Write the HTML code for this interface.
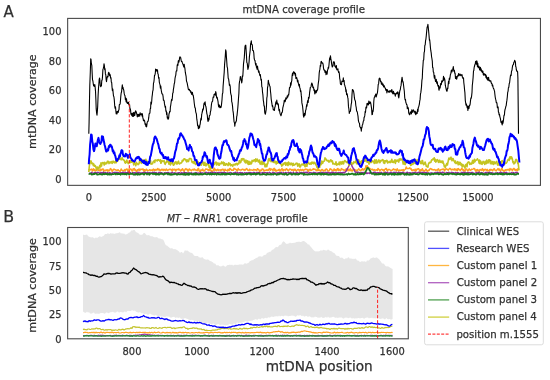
<!DOCTYPE html><html><head><meta charset="utf-8"><style>html,body{margin:0;padding:0;background:#fff;width:550px;height:380px;overflow:hidden}svg{display:block}</style></head><body><svg width="550" height="380" viewBox="0 0 550 380"><rect width="550" height="380" fill="#fff"/><text x="3.44" y="16.70" font-size="16" textLength="10.28" lengthAdjust="spacingAndGlyphs" fill="#303030" font-family="DejaVu Sans, Liberation Sans, sans-serif" stroke="#303030" stroke-width="0.25">A</text><text x="242.58" y="12.50" font-size="11.2" textLength="122.35" lengthAdjust="spacingAndGlyphs" fill="#303030" font-family="DejaVu Sans, Liberation Sans, sans-serif" stroke="#303030" stroke-width="0.25">mtDNA coverage profile</text><text transform="translate(35.6,101.6) scale(0.87,1) rotate(-90)" text-anchor="middle" font-size="11.1" fill="#303030" font-family="DejaVu Sans, Liberation Sans, sans-serif" stroke="#303030" stroke-width="0.25">mtDNA coverage</text><text x="55.16" y="182.70" font-size="11.0" textLength="6.30" lengthAdjust="spacingAndGlyphs" fill="#303030" font-family="DejaVu Sans, Liberation Sans, sans-serif" stroke="#303030" stroke-width="0.25">0</text><text x="48.86" y="153.24" font-size="11.0" textLength="12.60" lengthAdjust="spacingAndGlyphs" fill="#303030" font-family="DejaVu Sans, Liberation Sans, sans-serif" stroke="#303030" stroke-width="0.25">20</text><text x="48.86" y="123.78" font-size="11.0" textLength="12.60" lengthAdjust="spacingAndGlyphs" fill="#303030" font-family="DejaVu Sans, Liberation Sans, sans-serif" stroke="#303030" stroke-width="0.25">40</text><text x="48.86" y="94.32" font-size="11.0" textLength="12.60" lengthAdjust="spacingAndGlyphs" fill="#303030" font-family="DejaVu Sans, Liberation Sans, sans-serif" stroke="#303030" stroke-width="0.25">60</text><text x="48.86" y="64.86" font-size="11.0" textLength="12.60" lengthAdjust="spacingAndGlyphs" fill="#303030" font-family="DejaVu Sans, Liberation Sans, sans-serif" stroke="#303030" stroke-width="0.25">80</text><text x="42.56" y="35.40" font-size="11.0" textLength="18.90" lengthAdjust="spacingAndGlyphs" fill="#303030" font-family="DejaVu Sans, Liberation Sans, sans-serif" stroke="#303030" stroke-width="0.25">100</text><text x="85.86" y="201.10" font-size="11.0" textLength="6.30" lengthAdjust="spacingAndGlyphs" fill="#303030" font-family="DejaVu Sans, Liberation Sans, sans-serif" stroke="#303030" stroke-width="0.25">0</text><text x="141.22" y="201.10" font-size="11.0" textLength="25.19" lengthAdjust="spacingAndGlyphs" fill="#303030" font-family="DejaVu Sans, Liberation Sans, sans-serif" stroke="#303030" stroke-width="0.25">2500</text><text x="206.05" y="201.10" font-size="11.0" textLength="25.19" lengthAdjust="spacingAndGlyphs" fill="#303030" font-family="DejaVu Sans, Liberation Sans, sans-serif" stroke="#303030" stroke-width="0.25">5000</text><text x="270.87" y="201.10" font-size="11.0" textLength="25.19" lengthAdjust="spacingAndGlyphs" fill="#303030" font-family="DejaVu Sans, Liberation Sans, sans-serif" stroke="#303030" stroke-width="0.25">7500</text><text x="332.44" y="201.10" font-size="11.0" textLength="31.49" lengthAdjust="spacingAndGlyphs" fill="#303030" font-family="DejaVu Sans, Liberation Sans, sans-serif" stroke="#303030" stroke-width="0.25">10000</text><text x="397.29" y="201.10" font-size="11.0" textLength="31.49" lengthAdjust="spacingAndGlyphs" fill="#303030" font-family="DejaVu Sans, Liberation Sans, sans-serif" stroke="#303030" stroke-width="0.25">12500</text><text x="462.14" y="201.10" font-size="11.0" textLength="31.49" lengthAdjust="spacingAndGlyphs" fill="#303030" font-family="DejaVu Sans, Liberation Sans, sans-serif" stroke="#303030" stroke-width="0.25">15000</text><g fill="none" stroke-linejoin="round" stroke-linecap="butt"><path d="M88.8,170.2L89.4,169.4L90.0,169.6L90.6,169.9L91.2,169.1L91.8,169.3L92.4,171.1L93.0,169.4L93.6,168.9L94.2,170.5L94.8,169.6L95.4,170.9L96.0,170.3L96.6,170.5L97.2,169.0L97.8,169.7L98.4,170.3L99.0,169.9L99.6,170.8L100.2,170.8L100.8,169.1L101.4,170.2L102.0,169.6L102.6,169.1L103.2,169.0L103.8,171.2L104.4,170.3L105.0,170.4L105.6,170.4L106.2,169.9L106.8,170.6L107.4,169.9L108.0,171.1L108.6,170.1L109.2,170.7L109.8,170.3L110.4,168.6L111.0,169.1L111.6,169.7L112.2,171.4L112.8,170.0L113.4,169.9L114.0,169.0L114.6,169.6L115.2,169.8L115.8,170.0L116.4,170.5L117.0,170.1L117.6,170.4L118.2,169.8L118.8,170.7L119.4,170.9L120.0,171.5L120.6,170.6L121.2,169.0L121.8,170.2L122.4,170.5L123.0,170.7L123.6,170.4L124.2,170.9L124.8,169.5L125.4,170.4L126.0,169.6L126.6,169.1L127.2,169.1L127.8,171.1L128.4,171.4L129.0,169.0L129.6,170.2L130.2,169.2L130.8,168.9L131.4,169.7L132.0,171.0L132.6,171.0L133.2,168.8L133.8,169.7L134.4,168.5L135.0,170.3L135.6,169.9L136.2,171.2L136.8,171.2L137.4,169.7L138.0,170.5L138.6,169.2L139.2,169.1L139.8,170.6L140.4,169.3L141.0,169.3L141.6,169.3L142.2,169.7L142.8,169.0L143.4,169.2L144.0,171.2L144.6,169.8L145.2,170.8L145.8,170.3L146.4,169.2L147.0,169.8L147.6,170.3L148.2,170.7L148.8,170.3L149.4,169.8L150.0,169.7L150.6,170.5L151.2,170.0L151.8,170.2L152.4,170.8L153.0,169.4L153.6,169.1L154.2,170.5L154.8,169.8L155.4,170.3L156.0,169.3L156.6,170.0L157.2,170.0L157.8,168.4L158.4,169.7L159.0,170.1L159.6,169.3L160.2,170.7L160.8,170.0L161.4,170.0L162.0,169.1L162.6,170.0L163.2,170.5L163.8,169.3L164.4,169.4L165.0,170.3L165.6,170.5L166.2,168.9L166.8,169.6L167.4,170.4L168.0,170.0L168.6,169.9L169.2,169.4L169.8,169.2L170.4,169.7L171.0,169.4L171.6,170.0L172.2,171.0L172.8,169.1L173.4,169.8L174.0,169.9L174.6,169.2L175.2,169.4L175.8,171.0L176.4,169.8L177.0,169.3L177.6,169.4L178.2,169.8L178.8,168.8L179.4,169.8L180.0,170.0L180.6,171.0L181.2,169.7L181.8,170.2L182.4,168.7L183.0,169.5L183.6,170.6L184.2,171.2L184.8,170.0L185.4,169.0L186.0,168.6L186.6,169.6L187.2,169.3L187.8,171.0L188.4,171.1L189.0,169.2L189.6,169.0L190.2,170.1L190.8,170.0L191.4,170.8L192.0,170.1L192.6,169.4L193.2,169.3L193.8,170.1L194.4,169.0L195.0,169.5L195.6,170.1L196.2,170.2L196.8,169.9L197.4,170.6L198.0,168.6L198.6,168.5L199.2,171.0L199.8,171.2L200.4,171.4L201.0,169.8L201.6,170.5L202.2,170.4L202.8,169.1L203.4,170.7L204.0,171.1L204.6,170.6L205.2,169.8L205.8,169.0L206.4,169.1L207.0,169.3L207.6,169.3L208.2,170.6L208.8,169.6L209.4,170.3L210.0,168.4L210.6,170.5L211.2,170.4L211.8,171.3L212.4,171.2L213.0,170.8L213.6,169.7L214.2,168.3L214.8,170.2L215.4,169.4L216.0,170.0L216.6,170.6L217.2,169.8L217.8,169.2L218.4,170.4L219.0,170.1L219.6,169.9L220.2,169.8L220.8,170.9L221.4,169.6L222.0,170.0L222.6,169.2L223.2,169.3L223.8,170.4L224.4,171.0L225.0,169.2L225.6,170.2L226.2,170.3L226.8,170.4L227.4,170.9L228.0,169.3L228.6,170.5L229.2,170.6L229.8,168.4L230.4,169.0L231.0,169.3L231.6,170.3L232.2,170.2L232.8,170.0L233.4,170.3L234.0,168.3L234.6,168.6L235.2,169.2L235.8,169.5L236.4,169.4L237.0,171.0L237.6,170.3L238.2,168.5L238.8,169.7L239.4,169.8L240.0,170.0L240.6,169.9L241.2,170.1L241.8,169.6L242.4,169.2L243.0,169.2L243.6,169.9L244.2,169.6L244.8,170.2L245.4,170.1L246.0,169.1L246.6,168.6L247.2,169.3L247.8,170.1L248.4,170.6L249.0,170.6L249.6,169.3L250.2,170.1L250.8,170.0L251.4,170.0L252.0,170.1L252.6,170.2L253.2,170.2L253.8,169.3L254.4,169.9L255.0,169.8L255.6,169.7L256.2,170.5L256.8,170.5L257.4,168.7L258.0,169.2L258.6,169.4L259.2,170.8L259.8,171.3L260.4,170.1L261.0,170.8L261.6,170.2L262.2,168.9L262.8,169.6L263.4,169.3L264.0,171.1L264.6,170.6L265.2,170.6L265.8,170.1L266.4,169.8L267.0,170.4L267.6,170.4L268.2,169.5L268.8,170.3L269.4,168.6L270.0,168.6L270.6,170.2L271.2,169.0L271.8,169.5L272.4,169.4L273.0,170.8L273.6,168.8L274.2,168.4L274.8,170.5L275.4,169.3L276.0,171.2L276.6,170.6L277.2,170.5L277.8,170.4L278.4,169.6L279.0,170.5L279.6,169.3L280.2,171.0L280.8,170.1L281.4,170.1L282.0,168.5L282.6,170.1L283.2,171.0L283.8,169.4L284.4,169.9L285.0,170.1L285.6,170.2L286.2,168.8L286.8,169.0L287.4,169.6L288.0,170.7L288.6,170.8L289.2,169.6L289.8,169.1L290.4,169.2L291.0,169.5L291.6,170.1L292.2,169.5L292.8,170.1L293.4,170.7L294.0,169.2L294.6,170.1L295.2,169.3L295.8,170.8L296.4,170.9L297.0,170.3L297.6,169.6L298.2,169.4L298.8,170.0L299.4,171.0L300.0,169.6L300.6,169.3L301.2,170.3L301.8,170.4L302.4,169.5L303.0,169.7L303.6,170.8L304.2,169.7L304.8,169.6L305.4,169.0L306.0,169.6L306.6,169.2L307.2,169.4L307.8,170.8L308.4,171.3L309.0,169.5L309.6,170.0L310.2,169.2L310.8,170.5L311.4,170.3L312.0,169.9L312.6,169.6L313.2,168.7L313.8,169.4L314.4,169.2L315.0,169.1L315.6,170.0L316.2,170.0L316.8,170.7L317.4,168.9L318.0,170.5L318.6,169.5L319.2,170.2L319.8,170.3L320.4,171.1L321.0,170.7L321.6,169.6L322.2,169.4L322.8,170.2L323.4,170.9L324.0,170.2L324.6,170.7L325.2,170.8L325.8,169.4L326.4,168.9L327.0,169.3L327.6,170.8L328.2,170.8L328.8,171.1L329.4,170.4L330.0,168.8L330.6,168.9L331.2,169.5L331.8,169.7L332.4,170.8L333.0,170.7L333.6,170.4L334.2,168.9L334.8,170.5L335.4,169.7L336.0,170.2L336.6,170.7L337.2,168.9L337.8,168.5L338.4,170.2L339.0,169.4L339.6,170.0L340.2,170.6L340.8,170.5L341.4,168.6L342.0,169.0L342.6,169.4L343.2,170.0L343.8,169.7L344.4,170.5L345.0,170.9L345.6,169.3L346.2,169.5L346.8,168.9L347.4,169.7L348.0,170.8L348.6,169.4L349.2,170.6L349.8,170.3L350.4,168.6L351.0,170.8L351.6,170.0L352.2,171.0L352.8,170.7L353.4,169.2L354.0,169.8L354.6,169.9L355.2,170.7L355.8,169.8L356.4,170.9L357.0,171.0L357.6,169.9L358.2,169.5L358.8,168.9L359.4,170.1L360.0,170.1L360.6,170.7L361.2,170.2L361.8,169.6L362.4,168.7L363.0,170.0L363.6,170.1L364.2,168.9L364.8,169.6L365.4,167.9L366.0,165.8L366.6,167.2L367.2,165.7L367.8,166.7L368.4,168.0L369.0,168.1L369.6,168.3L370.2,168.9L370.8,169.2L371.4,169.5L372.0,169.6L372.6,169.2L373.2,170.3L373.8,170.0L374.4,169.6L375.0,170.4L375.6,170.0L376.2,169.9L376.8,169.8L377.4,170.5L378.0,168.4L378.6,169.6L379.2,169.5L379.8,171.0L380.4,170.0L381.0,169.6L381.6,169.3L382.2,169.5L382.8,170.3L383.4,169.8L384.0,171.2L384.6,169.4L385.2,169.3L385.8,168.6L386.4,168.6L387.0,170.5L387.6,170.8L388.2,169.7L388.8,169.4L389.4,169.5L390.0,169.9L390.6,170.3L391.2,170.6L391.8,170.6L392.4,169.6L393.0,169.7L393.6,168.9L394.2,169.5L394.8,169.9L395.4,169.5L396.0,169.8L396.6,170.9L397.2,168.8L397.8,170.1L398.4,170.3L399.0,170.8L399.6,170.0L400.2,170.5L400.8,170.3L401.4,169.9L402.0,170.4L402.6,169.9L403.2,169.5L403.8,171.0L404.4,169.9L405.0,169.5L405.6,169.0L406.2,166.9L406.8,168.5L407.4,168.5L408.0,168.4L408.6,168.6L409.2,168.4L409.8,167.8L410.4,169.0L411.0,168.5L411.6,170.1L412.2,170.6L412.8,170.0L413.4,169.8L414.0,170.4L414.6,170.4L415.2,169.2L415.8,171.0L416.4,170.6L417.0,169.0L417.6,169.2L418.2,168.8L418.8,168.8L419.4,170.2L420.0,171.3L420.6,169.8L421.2,170.6L421.8,169.9L422.4,168.7L423.0,170.6L423.6,170.5L424.2,171.3L424.8,170.6L425.4,170.2L426.0,169.1L426.6,170.2L427.2,171.0L427.8,171.2L428.4,170.2L429.0,170.5L429.6,169.5L430.2,168.6L430.8,168.7L431.4,169.2L432.0,169.7L432.6,169.5L433.2,169.8L433.8,169.9L434.4,169.6L435.0,169.7L435.6,170.6L436.2,170.0L436.8,170.0L437.4,170.2L438.0,169.2L438.6,168.9L439.2,170.9L439.8,170.8L440.4,170.0L441.0,169.7L441.6,169.6L442.2,169.6L442.8,169.1L443.4,169.1L444.0,169.8L444.6,170.9L445.2,169.0L445.8,169.4L446.4,168.8L447.0,169.2L447.6,169.5L448.2,170.2L448.8,169.4L449.4,168.6L450.0,168.5L450.6,168.8L451.2,170.0L451.8,169.4L452.4,169.3L453.0,169.8L453.6,169.3L454.2,169.9L454.8,168.7L455.4,169.9L456.0,170.2L456.6,169.2L457.2,170.8L457.8,168.8L458.4,168.6L459.0,169.8L459.6,169.5L460.2,170.7L460.8,169.8L461.4,168.8L462.0,168.4L462.6,170.1L463.2,169.5L463.8,171.0L464.4,170.3L465.0,170.9L465.6,169.1L466.2,168.9L466.8,169.2L467.4,170.8L468.0,170.7L468.6,169.9L469.2,168.9L469.8,169.8L470.4,170.5L471.0,170.1L471.6,169.2L472.2,169.4L472.8,169.2L473.4,168.9L474.0,168.4L474.6,168.6L475.2,170.3L475.8,171.2L476.4,169.7L477.0,171.0L477.6,169.5L478.2,170.1L478.8,170.6L479.4,171.1L480.0,169.4L480.6,169.8L481.2,170.0L481.8,170.4L482.4,168.6L483.0,169.4L483.6,171.0L484.2,169.5L484.8,169.9L485.4,169.3L486.0,169.8L486.6,170.5L487.2,169.3L487.8,170.9L488.4,170.8L489.0,170.7L489.6,169.6L490.2,170.3L490.8,169.4L491.4,170.0L492.0,169.8L492.6,170.8L493.2,169.8L493.8,168.9L494.4,168.7L495.0,170.3L495.6,170.5L496.2,170.9L496.8,169.9L497.4,169.6L498.0,168.6L498.6,170.0L499.2,169.0L499.8,170.3L500.4,170.9L501.0,170.3L501.6,168.6L502.2,168.8L502.8,170.5L503.4,170.5L504.0,171.2L504.6,171.1L505.2,169.7L505.8,170.3L506.4,170.0L507.0,169.5L507.6,170.0L508.2,169.4L508.8,169.9L509.4,170.7L510.0,168.5L510.6,169.7L511.2,169.1L511.8,169.4L512.4,170.7L513.0,169.4L513.6,168.5L514.2,168.6L514.8,170.0L515.4,170.3L516.0,169.3L516.6,169.6L517.2,170.8L517.8,168.8L518.4,169.6L519.0,169.7" stroke="#ffa020" stroke-width="1.5"/><path d="M88.8,173.2L89.4,173.3L90.0,173.5L90.6,173.2L91.2,173.5L91.8,172.2L92.4,172.9L93.0,173.5L93.6,173.1L94.2,173.5L94.8,172.4L95.4,172.9L96.0,172.5L96.6,173.0L97.2,173.0L97.8,172.2L98.4,172.5L99.0,172.6L99.6,173.5L100.2,173.3L100.8,172.4L101.4,173.3L102.0,172.4L102.6,173.1L103.2,172.4L103.8,172.2L104.4,173.4L105.0,172.5L105.6,172.5L106.2,173.6L106.8,173.4L107.4,172.6L108.0,173.5L108.6,173.0L109.2,173.1L109.8,172.5L110.4,173.5L111.0,173.2L111.6,173.6L112.2,173.5L112.8,172.6L113.4,172.7L114.0,172.4L114.6,172.4L115.2,172.3L115.8,172.6L116.4,173.0L117.0,172.2L117.6,173.1L118.2,172.7L118.8,172.6L119.4,173.3L120.0,172.9L120.6,172.6L121.2,172.9L121.8,173.2L122.4,172.3L123.0,173.6L123.6,172.2L124.2,173.2L124.8,173.4L125.4,172.2L126.0,173.3L126.6,172.7L127.2,173.0L127.8,172.2L128.4,172.3L129.0,172.5L129.6,173.5L130.2,172.5L130.8,173.3L131.4,173.5L132.0,173.5L132.6,172.7L133.2,172.7L133.8,172.9L134.4,173.3L135.0,172.4L135.6,173.2L136.2,173.3L136.8,173.4L137.4,172.3L138.0,173.5L138.6,172.3L139.2,172.7L139.8,173.1L140.4,173.5L141.0,172.7L141.6,173.5L142.2,173.0L142.8,172.6L143.4,172.6L144.0,172.4L144.6,172.3L145.2,172.4L145.8,173.2L146.4,173.6L147.0,172.4L147.6,172.3L148.2,173.6L148.8,172.9L149.4,172.8L150.0,172.5L150.6,173.0L151.2,173.4L151.8,172.8L152.4,172.8L153.0,172.3L153.6,173.5L154.2,172.2L154.8,172.9L155.4,173.4L156.0,172.4L156.6,173.2L157.2,173.5L157.8,173.1L158.4,173.3L159.0,172.3L159.6,172.8L160.2,172.4L160.8,173.4L161.4,172.6L162.0,172.8L162.6,173.6L163.2,173.4L163.8,173.6L164.4,172.8L165.0,172.9L165.6,173.2L166.2,172.9L166.8,172.6L167.4,172.8L168.0,172.4L168.6,172.7L169.2,173.6L169.8,173.5L170.4,173.1L171.0,172.9L171.6,172.7L172.2,172.3L172.8,172.6L173.4,173.3L174.0,173.4L174.6,172.7L175.2,173.3L175.8,173.3L176.4,173.2L177.0,173.1L177.6,173.3L178.2,172.7L178.8,173.2L179.4,172.6L180.0,172.9L180.6,173.3L181.2,173.2L181.8,172.6L182.4,173.5L183.0,173.1L183.6,173.0L184.2,172.2L184.8,173.0L185.4,172.6L186.0,173.1L186.6,172.8L187.2,173.3L187.8,173.1L188.4,173.3L189.0,172.7L189.6,173.1L190.2,173.2L190.8,173.4L191.4,172.7L192.0,173.4L192.6,173.4L193.2,173.2L193.8,173.6L194.4,173.5L195.0,172.9L195.6,172.9L196.2,172.4L196.8,173.4L197.4,173.5L198.0,172.9L198.6,173.2L199.2,173.2L199.8,173.2L200.4,172.4L201.0,173.3L201.6,173.0L202.2,173.1L202.8,172.8L203.4,173.1L204.0,173.3L204.6,173.1L205.2,173.2L205.8,172.2L206.4,172.4L207.0,172.8L207.6,173.1L208.2,172.5L208.8,173.2L209.4,173.1L210.0,172.3L210.6,172.9L211.2,172.5L211.8,172.3L212.4,172.4L213.0,172.6L213.6,172.5L214.2,172.5L214.8,172.2L215.4,172.9L216.0,172.7L216.6,173.1L217.2,173.0L217.8,172.5L218.4,173.5L219.0,172.2L219.6,172.8L220.2,172.6L220.8,172.8L221.4,172.4L222.0,173.4L222.6,172.7L223.2,172.3L223.8,173.1L224.4,172.3L225.0,173.0L225.6,172.7L226.2,173.0L226.8,173.5L227.4,173.3L228.0,172.8L228.6,173.3L229.2,173.1L229.8,172.7L230.4,172.4L231.0,173.0L231.6,173.0L232.2,173.5L232.8,173.6L233.4,173.1L234.0,172.7L234.6,173.5L235.2,172.2L235.8,172.4L236.4,173.0L237.0,173.1L237.6,172.4L238.2,173.1L238.8,173.4L239.4,172.7L240.0,172.8L240.6,172.5L241.2,172.6L241.8,173.6L242.4,172.7L243.0,173.5L243.6,173.5L244.2,173.0L244.8,172.6L245.4,173.6L246.0,172.9L246.6,172.8L247.2,172.6L247.8,173.6L248.4,172.9L249.0,172.6L249.6,172.9L250.2,172.4L250.8,173.1L251.4,172.8L252.0,172.6L252.6,173.3L253.2,173.4L253.8,172.2L254.4,172.9L255.0,172.6L255.6,173.5L256.2,173.3L256.8,172.5L257.4,172.6L258.0,172.4L258.6,173.6L259.2,172.6L259.8,173.1L260.4,172.9L261.0,173.1L261.6,173.0L262.2,173.2L262.8,172.4L263.4,173.3L264.0,172.6L264.6,172.9L265.2,172.7L265.8,172.6L266.4,172.9L267.0,172.9L267.6,172.7L268.2,173.2L268.8,173.0L269.4,172.3L270.0,172.6L270.6,172.8L271.2,173.5L271.8,173.4L272.4,173.0L273.0,172.2L273.6,173.3L274.2,172.8L274.8,173.0L275.4,173.2L276.0,173.1L276.6,172.9L277.2,173.5L277.8,172.7L278.4,172.7L279.0,173.4L279.6,172.5L280.2,172.6L280.8,173.4L281.4,172.3L282.0,173.4L282.6,173.2L283.2,172.8L283.8,172.6L284.4,173.3L285.0,173.5L285.6,172.4L286.2,172.9L286.8,173.0L287.4,172.9L288.0,172.7L288.6,172.4L289.2,173.0L289.8,173.3L290.4,172.3L291.0,172.5L291.6,173.3L292.2,173.3L292.8,173.1L293.4,172.2L294.0,173.2L294.6,173.6L295.2,173.6L295.8,173.2L296.4,172.3L297.0,173.4L297.6,172.5L298.2,173.1L298.8,173.5L299.4,173.2L300.0,172.4L300.6,172.6L301.2,173.5L301.8,172.4L302.4,173.1L303.0,172.8L303.6,172.4L304.2,173.1L304.8,172.3L305.4,172.4L306.0,172.7L306.6,172.3L307.2,172.3L307.8,173.0L308.4,173.2L309.0,173.4L309.6,172.4L310.2,172.8L310.8,172.6L311.4,173.0L312.0,172.9L312.6,173.5L313.2,172.7L313.8,172.3L314.4,173.2L315.0,172.4L315.6,173.1L316.2,172.9L316.8,173.5L317.4,173.0L318.0,173.1L318.6,172.6L319.2,173.0L319.8,172.6L320.4,173.3L321.0,172.9L321.6,172.4L322.2,172.5L322.8,172.7L323.4,173.2L324.0,172.5L324.6,173.2L325.2,173.1L325.8,172.3L326.4,173.1L327.0,172.3L327.6,172.4L328.2,173.0L328.8,172.5L329.4,173.4L330.0,172.9L330.6,172.7L331.2,173.3L331.8,172.2L332.4,173.2L333.0,172.3L333.6,172.4L334.2,173.5L334.8,173.2L335.4,172.5L336.0,172.4L336.6,173.6L337.2,173.1L337.8,173.3L338.4,172.4L339.0,173.1L339.6,172.7L340.2,172.5L340.8,172.7L341.4,173.0L342.0,172.7L342.6,172.7L343.2,172.2L343.8,173.1L344.4,172.6L345.0,172.4L345.6,171.4L346.2,171.2L346.8,169.8L347.4,168.7L348.0,167.5L348.6,166.5L349.2,165.1L349.8,164.0L350.4,163.6L351.0,164.1L351.6,164.6L352.2,166.7L352.8,167.4L353.4,169.0L354.0,169.0L354.6,170.7L355.2,172.0L355.8,172.2L356.4,172.3L357.0,172.6L357.6,172.2L358.2,172.3L358.8,172.4L359.4,172.7L360.0,172.7L360.6,173.4L361.2,172.4L361.8,172.6L362.4,172.6L363.0,172.4L363.6,172.6L364.2,172.5L364.8,172.9L365.4,172.2L366.0,173.5L366.6,172.7L367.2,173.5L367.8,173.2L368.4,173.1L369.0,172.9L369.6,173.5L370.2,172.4L370.8,173.1L371.4,172.6L372.0,173.1L372.6,173.2L373.2,172.4L373.8,172.5L374.4,172.2L375.0,172.5L375.6,172.3L376.2,172.8L376.8,173.6L377.4,172.7L378.0,172.6L378.6,172.9L379.2,172.6L379.8,173.2L380.4,173.2L381.0,172.4L381.6,172.5L382.2,173.1L382.8,173.5L383.4,173.1L384.0,172.8L384.6,173.6L385.2,172.2L385.8,172.3L386.4,173.3L387.0,172.8L387.6,172.3L388.2,173.0L388.8,173.6L389.4,172.9L390.0,172.7L390.6,172.3L391.2,172.3L391.8,173.5L392.4,172.9L393.0,173.5L393.6,172.3L394.2,172.5L394.8,172.3L395.4,172.8L396.0,172.3L396.6,172.6L397.2,172.8L397.8,172.6L398.4,172.3L399.0,172.3L399.6,173.6L400.2,172.5L400.8,172.9L401.4,172.8L402.0,172.9L402.6,172.3L403.2,172.6L403.8,172.4L404.4,173.0L405.0,173.5L405.6,173.0L406.2,173.4L406.8,172.5L407.4,172.2L408.0,173.0L408.6,172.9L409.2,173.0L409.8,172.7L410.4,173.1L411.0,173.2L411.6,173.5L412.2,172.6L412.8,172.8L413.4,173.4L414.0,172.5L414.6,172.4L415.2,172.6L415.8,172.3L416.4,173.3L417.0,173.3L417.6,172.6L418.2,172.4L418.8,172.3L419.4,172.5L420.0,172.3L420.6,172.8L421.2,173.0L421.8,172.5L422.4,172.3L423.0,173.2L423.6,172.3L424.2,172.5L424.8,172.6L425.4,172.7L426.0,172.3L426.6,172.8L427.2,172.6L427.8,173.3L428.4,173.0L429.0,173.5L429.6,173.1L430.2,173.3L430.8,173.0L431.4,172.8L432.0,173.3L432.6,173.1L433.2,173.5L433.8,173.2L434.4,173.2L435.0,172.6L435.6,173.3L436.2,172.7L436.8,172.4L437.4,172.3L438.0,172.4L438.6,172.6L439.2,173.1L439.8,172.6L440.4,172.3L441.0,173.3L441.6,173.0L442.2,172.2L442.8,172.3L443.4,172.4L444.0,172.7L444.6,173.4L445.2,173.5L445.8,173.1L446.4,172.5L447.0,172.8L447.6,172.7L448.2,172.7L448.8,172.2L449.4,173.0L450.0,173.4L450.6,173.2L451.2,172.3L451.8,172.9L452.4,172.4L453.0,173.2L453.6,172.8L454.2,173.5L454.8,173.3L455.4,172.4L456.0,172.6L456.6,173.5L457.2,172.8L457.8,172.8L458.4,172.8L459.0,173.3L459.6,173.5L460.2,172.9L460.8,173.6L461.4,173.0L462.0,172.3L462.6,173.3L463.2,172.8L463.8,172.3L464.4,173.6L465.0,172.2L465.6,173.0L466.2,172.9L466.8,173.4L467.4,172.7L468.0,172.5L468.6,172.6L469.2,172.5L469.8,173.0L470.4,172.7L471.0,173.3L471.6,172.5L472.2,172.7L472.8,172.5L473.4,173.6L474.0,173.4L474.6,173.4L475.2,173.1L475.8,172.8L476.4,172.4L477.0,173.4L477.6,172.9L478.2,172.3L478.8,172.4L479.4,172.3L480.0,173.2L480.6,173.5L481.2,172.5L481.8,173.3L482.4,172.7L483.0,173.2L483.6,173.4L484.2,173.1L484.8,173.3L485.4,172.7L486.0,172.2L486.6,172.9L487.2,173.0L487.8,172.5L488.4,172.7L489.0,172.6L489.6,172.2L490.2,172.6L490.8,172.7L491.4,172.9L492.0,173.2L492.6,172.8L493.2,173.6L493.8,173.3L494.4,173.5L495.0,173.2L495.6,173.1L496.2,173.0L496.8,173.3L497.4,172.7L498.0,173.0L498.6,173.2L499.2,172.9L499.8,172.6L500.4,172.3L501.0,172.3L501.6,172.7L502.2,173.0L502.8,173.3L503.4,173.2L504.0,172.6L504.6,173.5L505.2,172.6L505.8,173.2L506.4,172.3L507.0,173.3L507.6,173.1L508.2,173.5L508.8,173.5L509.4,173.2L510.0,173.4L510.6,173.2L511.2,173.1L511.8,172.5L512.4,172.9L513.0,173.5L513.6,172.5L514.2,173.6L514.8,173.0L515.4,172.8L516.0,172.2L516.6,172.7L517.2,172.4L517.8,173.1L518.4,173.5L519.0,173.5" stroke="#8e2c9e" stroke-width="1.4"/><path d="M88.8,173.5L89.4,174.0L90.0,173.6L90.6,173.5L91.2,174.0L91.8,174.7L92.4,174.5L93.0,174.5L93.6,173.7L94.2,174.2L94.8,173.8L95.4,173.6L96.0,173.5L96.6,173.7L97.2,174.7L97.8,174.6L98.4,174.5L99.0,174.5L99.6,173.7L100.2,173.8L100.8,174.3L101.4,174.4L102.0,174.6L102.6,174.6L103.2,173.5L103.8,174.2L104.4,174.3L105.0,174.1L105.6,173.6L106.2,174.1L106.8,173.5L107.4,174.7L108.0,174.6L108.6,174.2L109.2,173.8L109.8,174.7L110.4,174.2L111.0,174.6L111.6,174.6L112.2,174.1L112.8,174.0L113.4,174.2L114.0,174.0L114.6,173.6L115.2,173.8L115.8,174.5L116.4,173.5L117.0,173.5L117.6,174.3L118.2,173.8L118.8,174.1L119.4,174.1L120.0,173.9L120.6,174.8L121.2,173.7L121.8,174.0L122.4,173.7L123.0,174.3L123.6,173.8L124.2,173.9L124.8,174.4L125.4,173.8L126.0,174.2L126.6,174.7L127.2,173.5L127.8,173.5L128.4,173.7L129.0,174.5L129.6,174.3L130.2,173.7L130.8,173.9L131.4,173.6L132.0,174.0L132.6,173.5L133.2,174.4L133.8,174.7L134.4,174.7L135.0,174.4L135.6,174.7L136.2,173.4L136.8,173.8L137.4,174.8L138.0,174.5L138.6,174.0L139.2,174.7L139.8,174.3L140.4,174.5L141.0,173.8L141.6,173.7L142.2,174.0L142.8,173.6L143.4,173.9L144.0,174.7L144.6,173.9L145.2,173.4L145.8,173.5L146.4,173.6L147.0,174.5L147.6,173.9L148.2,173.8L148.8,173.5L149.4,174.8L150.0,174.0L150.6,173.7L151.2,173.5L151.8,173.5L152.4,173.6L153.0,174.3L153.6,173.6L154.2,173.5L154.8,174.1L155.4,173.7L156.0,174.8L156.6,173.6L157.2,174.1L157.8,174.5L158.4,174.0L159.0,174.8L159.6,174.1L160.2,173.7L160.8,174.0L161.4,173.5L162.0,174.0L162.6,173.7L163.2,174.6L163.8,174.6L164.4,174.1L165.0,173.4L165.6,173.8L166.2,173.7L166.8,173.7L167.4,173.7L168.0,174.6L168.6,173.6L169.2,173.5L169.8,174.7L170.4,174.2L171.0,174.8L171.6,174.0L172.2,174.7L172.8,174.3L173.4,174.5L174.0,174.4L174.6,174.1L175.2,173.5L175.8,173.7L176.4,174.6L177.0,174.7L177.6,174.7L178.2,173.9L178.8,174.3L179.4,174.5L180.0,174.3L180.6,174.5L181.2,174.1L181.8,174.3L182.4,174.4L183.0,173.8L183.6,174.7L184.2,174.7L184.8,173.5L185.4,174.8L186.0,174.7L186.6,174.3L187.2,173.5L187.8,174.7L188.4,173.6L189.0,174.8L189.6,174.3L190.2,173.5L190.8,173.6L191.4,174.3L192.0,174.2L192.6,174.4L193.2,174.7L193.8,173.7L194.4,173.4L195.0,174.7L195.6,173.4L196.2,174.6L196.8,173.6L197.4,174.5L198.0,174.5L198.6,174.6L199.2,174.2L199.8,174.6L200.4,173.7L201.0,174.3L201.6,173.9L202.2,174.6L202.8,174.5L203.4,174.1L204.0,174.1L204.6,173.4L205.2,173.4L205.8,174.2L206.4,174.1L207.0,174.6L207.6,174.3L208.2,173.6L208.8,173.9L209.4,174.5L210.0,174.1L210.6,173.4L211.2,174.6L211.8,174.6L212.4,173.5L213.0,174.2L213.6,173.9L214.2,174.5L214.8,173.8L215.4,173.7L216.0,174.1L216.6,174.8L217.2,173.5L217.8,173.6L218.4,174.3L219.0,174.6L219.6,174.1L220.2,174.0L220.8,174.6L221.4,174.5L222.0,173.5L222.6,174.6L223.2,173.7L223.8,173.8L224.4,174.6L225.0,174.0L225.6,174.5L226.2,173.6L226.8,174.6L227.4,173.6L228.0,173.6L228.6,174.1L229.2,173.9L229.8,174.2L230.4,174.7L231.0,174.4L231.6,173.4L232.2,173.8L232.8,174.2L233.4,174.1L234.0,174.4L234.6,174.1L235.2,173.5L235.8,173.7L236.4,174.6L237.0,173.9L237.6,174.5L238.2,174.8L238.8,174.3L239.4,174.3L240.0,174.3L240.6,173.8L241.2,174.7L241.8,174.1L242.4,174.7L243.0,173.8L243.6,174.6L244.2,174.5L244.8,174.3L245.4,174.0L246.0,173.6L246.6,174.5L247.2,173.9L247.8,174.3L248.4,173.6L249.0,173.5L249.6,173.6L250.2,174.5L250.8,173.6L251.4,174.7L252.0,173.9L252.6,174.2L253.2,173.9L253.8,174.3L254.4,173.5L255.0,174.0L255.6,174.7L256.2,173.7L256.8,174.3L257.4,173.9L258.0,173.8L258.6,173.4L259.2,173.4L259.8,174.7L260.4,174.6L261.0,174.5L261.6,174.5L262.2,174.7L262.8,173.6L263.4,174.2L264.0,174.1L264.6,174.2L265.2,174.7L265.8,174.5L266.4,174.8L267.0,173.6L267.6,174.3L268.2,174.3L268.8,174.4L269.4,174.3L270.0,174.6L270.6,173.8L271.2,174.7L271.8,174.0L272.4,174.2L273.0,174.7L273.6,174.4L274.2,173.8L274.8,173.7L275.4,173.9L276.0,174.3L276.6,174.8L277.2,174.7L277.8,174.0L278.4,174.0L279.0,174.5L279.6,173.8L280.2,174.0L280.8,173.4L281.4,173.7L282.0,174.2L282.6,174.4L283.2,174.3L283.8,173.9L284.4,174.7L285.0,174.3L285.6,173.6L286.2,173.5L286.8,174.8L287.4,174.8L288.0,174.7L288.6,174.2L289.2,173.8L289.8,173.5L290.4,173.8L291.0,173.7L291.6,174.7L292.2,174.6L292.8,174.5L293.4,173.6L294.0,173.7L294.6,173.8L295.2,174.7L295.8,173.6L296.4,174.5L297.0,174.4L297.6,174.2L298.2,174.7L298.8,173.8L299.4,174.1L300.0,173.6L300.6,173.5L301.2,173.4L301.8,173.8L302.4,173.6L303.0,173.5L303.6,174.8L304.2,173.8L304.8,174.6L305.4,174.4L306.0,174.4L306.6,174.3L307.2,174.7L307.8,174.6L308.4,174.4L309.0,174.2L309.6,174.4L310.2,174.4L310.8,174.2L311.4,174.1L312.0,173.6L312.6,174.6L313.2,174.1L313.8,173.5L314.4,173.6L315.0,174.6L315.6,173.8L316.2,173.9L316.8,174.4L317.4,174.6L318.0,173.9L318.6,173.9L319.2,174.0L319.8,173.4L320.4,174.6L321.0,173.4L321.6,174.7L322.2,173.6L322.8,173.6L323.4,174.6L324.0,174.6L324.6,173.7L325.2,174.2L325.8,174.1L326.4,174.4L327.0,173.7L327.6,174.6L328.2,174.8L328.8,174.4L329.4,174.7L330.0,174.7L330.6,173.9L331.2,174.6L331.8,174.6L332.4,174.2L333.0,173.6L333.6,174.3L334.2,174.7L334.8,173.8L335.4,174.3L336.0,174.7L336.6,174.2L337.2,173.5L337.8,174.3L338.4,173.8L339.0,174.6L339.6,174.3L340.2,173.8L340.8,174.7L341.4,174.3L342.0,173.9L342.6,174.6L343.2,174.6L343.8,174.7L344.4,174.6L345.0,174.3L345.6,174.4L346.2,174.2L346.8,174.1L347.4,174.8L348.0,173.9L348.6,173.5L349.2,174.4L349.8,174.1L350.4,174.2L351.0,174.2L351.6,173.7L352.2,173.7L352.8,173.5L353.4,174.5L354.0,174.7L354.6,174.4L355.2,173.6L355.8,174.8L356.4,174.6L357.0,174.1L357.6,173.4L358.2,174.6L358.8,174.3L359.4,174.3L360.0,173.4L360.6,174.4L361.2,173.4L361.8,174.1L362.4,173.6L363.0,173.8L363.6,174.5L364.2,174.0L364.8,173.6L365.4,172.0L366.0,171.0L366.6,170.0L367.2,168.0L367.8,167.8L368.4,168.6L369.0,169.0L369.6,170.3L370.2,170.9L370.8,172.6L371.4,173.6L372.0,173.9L372.6,173.8L373.2,173.6L373.8,173.4L374.4,174.6L375.0,174.7L375.6,173.8L376.2,174.5L376.8,174.0L377.4,174.3L378.0,174.6L378.6,173.8L379.2,174.3L379.8,173.8L380.4,174.1L381.0,173.4L381.6,173.8L382.2,173.8L382.8,174.7L383.4,173.6L384.0,174.5L384.6,173.5L385.2,174.8L385.8,173.6L386.4,173.5L387.0,173.7L387.6,174.7L388.2,174.3L388.8,174.6L389.4,174.1L390.0,173.6L390.6,173.9L391.2,174.0L391.8,174.8L392.4,173.6L393.0,173.7L393.6,174.6L394.2,173.6L394.8,174.8L395.4,173.8L396.0,174.2L396.6,174.3L397.2,174.7L397.8,173.5L398.4,174.6L399.0,173.7L399.6,174.4L400.2,173.4L400.8,174.5L401.4,173.7L402.0,173.7L402.6,173.4L403.2,173.9L403.8,173.9L404.4,174.8L405.0,174.2L405.6,173.9L406.2,174.8L406.8,173.6L407.4,173.7L408.0,174.7L408.6,174.7L409.2,174.4L409.8,174.8L410.4,173.5L411.0,174.7L411.6,174.4L412.2,174.3L412.8,174.6L413.4,173.5L414.0,173.7L414.6,173.6L415.2,174.1L415.8,174.2L416.4,174.2L417.0,173.9L417.6,174.4L418.2,174.6L418.8,174.5L419.4,173.5L420.0,173.6L420.6,173.7L421.2,173.7L421.8,174.2L422.4,173.7L423.0,174.3L423.6,173.9L424.2,173.9L424.8,174.4L425.4,174.7L426.0,173.7L426.6,173.9L427.2,174.8L427.8,173.7L428.4,173.4L429.0,173.7L429.6,174.6L430.2,174.4L430.8,174.7L431.4,174.1L432.0,173.5L432.6,173.8L433.2,174.4L433.8,173.9L434.4,173.6L435.0,173.9L435.6,174.0L436.2,173.9L436.8,174.0L437.4,173.6L438.0,173.4L438.6,174.5L439.2,174.4L439.8,174.0L440.4,173.6L441.0,173.8L441.6,174.2L442.2,174.7L442.8,174.1L443.4,174.8L444.0,174.1L444.6,173.7L445.2,174.3L445.8,174.2L446.4,174.2L447.0,174.4L447.6,173.4L448.2,174.0L448.8,174.5L449.4,173.6L450.0,173.5L450.6,173.7L451.2,173.8L451.8,174.0L452.4,173.8L453.0,174.3L453.6,173.6L454.2,173.9L454.8,174.3L455.4,174.2L456.0,174.7L456.6,174.7L457.2,173.8L457.8,173.9L458.4,174.2L459.0,174.2L459.6,173.9L460.2,174.6L460.8,173.7L461.4,174.1L462.0,173.6L462.6,174.6L463.2,174.2L463.8,174.8L464.4,173.6L465.0,174.4L465.6,174.2L466.2,173.5L466.8,174.5L467.4,174.6L468.0,173.5L468.6,174.7L469.2,174.5L469.8,174.2L470.4,174.2L471.0,173.8L471.6,173.5L472.2,174.1L472.8,174.6L473.4,173.7L474.0,174.1L474.6,173.8L475.2,174.4L475.8,174.7L476.4,174.6L477.0,173.8L477.6,174.0L478.2,173.4L478.8,174.1L479.4,174.6L480.0,174.6L480.6,173.5L481.2,174.0L481.8,173.5L482.4,174.0L483.0,174.7L483.6,173.8L484.2,174.6L484.8,174.7L485.4,174.5L486.0,173.7L486.6,174.7L487.2,174.7L487.8,174.8L488.4,173.4L489.0,173.4L489.6,173.8L490.2,174.1L490.8,174.0L491.4,173.5L492.0,174.3L492.6,174.3L493.2,174.3L493.8,174.1L494.4,174.2L495.0,174.4L495.6,173.5L496.2,174.0L496.8,173.6L497.4,173.5L498.0,174.5L498.6,173.9L499.2,173.9L499.8,173.8L500.4,174.2L501.0,173.6L501.6,174.3L502.2,173.5L502.8,174.7L503.4,173.6L504.0,174.5L504.6,174.2L505.2,174.0L505.8,173.8L506.4,173.9L507.0,174.5L507.6,174.1L508.2,174.2L508.8,173.7L509.4,174.3L510.0,173.6L510.6,174.1L511.2,174.3L511.8,174.2L512.4,174.2L513.0,174.2L513.6,173.7L514.2,174.7L514.8,174.4L515.4,174.4L516.0,174.7L516.6,174.0L517.2,173.9L517.8,173.8L518.4,173.8L519.0,173.8" stroke="#1a7a1a" stroke-width="1.7"/><path d="M88.8,172.0L89.3,166.4L90.2,161.1L90.6,162.8L91.1,160.9L91.6,163.5L92.1,163.7L92.8,163.2L93.3,165.5L93.8,164.1L94.4,166.3L95.0,165.5L95.5,166.1L96.1,167.9L96.7,169.8L97.2,167.1L97.8,167.3L98.3,168.4L98.9,168.9L99.4,166.6L99.9,165.2L100.6,166.9L101.0,162.9L101.5,166.0L102.0,163.5L102.6,162.8L103.1,162.5L103.6,163.1L104.2,165.0L104.7,162.4L105.3,163.8L105.8,164.0L106.3,162.8L106.9,163.4L107.4,161.3L107.9,161.2L108.5,161.7L109.0,163.6L109.5,162.5L110.0,161.9L110.5,162.9L111.0,162.3L111.6,161.6L112.1,163.4L112.6,163.0L113.1,161.0L113.7,162.2L114.2,161.8L114.8,163.0L115.4,162.2L115.9,160.2L116.3,162.7L116.8,159.0L117.4,159.8L117.9,160.8L118.5,158.1L119.0,159.1L119.5,157.0L120.1,159.2L120.6,159.4L121.0,158.5L121.5,159.7L122.1,157.6L122.7,159.5L123.2,159.6L123.8,160.1L124.3,160.2L124.8,162.3L125.3,163.2L125.8,161.6L126.3,162.5L126.9,160.1L127.4,162.6L127.9,162.3L128.4,163.6L129.0,162.9L129.5,160.7L130.1,161.2L130.6,162.6L131.1,160.2L131.6,162.3L132.1,161.5L132.6,161.6L133.2,161.7L133.7,164.9L134.2,162.6L134.8,163.2L135.3,163.9L135.8,165.7L136.4,162.4L136.9,163.6L137.4,163.7L138.0,164.7L138.5,164.1L139.0,163.9L139.5,161.3L140.1,161.6L140.6,161.1L141.1,163.1L141.6,163.3L142.2,160.0L142.7,160.0L143.2,160.2L143.7,160.2L144.2,161.2L144.8,161.6L145.3,160.3L145.8,159.3L146.3,161.0L146.8,160.9L147.4,161.9L147.9,163.6L148.4,162.7L148.9,162.1L149.4,162.7L150.0,163.1L150.5,160.7L151.0,164.1L151.5,163.6L152.1,164.0L152.6,163.6L153.1,161.9L153.7,161.8L154.2,160.5L154.7,162.5L155.2,160.1L155.7,160.0L156.2,160.5L156.8,160.3L157.3,161.0L157.8,159.8L158.2,159.6L158.7,160.2L159.3,160.1L160.0,161.2L160.4,159.8L160.9,163.3L161.4,162.3L161.9,160.5L162.4,161.0L163.0,161.4L163.5,161.5L164.1,160.6L164.7,163.6L165.2,164.3L165.8,162.2L166.4,162.4L166.9,160.8L167.4,161.0L167.9,162.0L168.4,161.8L168.9,164.1L169.4,161.6L169.9,161.1L170.4,164.9L170.9,163.3L171.4,161.9L171.9,163.5L172.4,161.5L172.9,163.5L173.4,165.3L173.9,164.9L174.4,164.1L174.9,162.3L175.5,162.7L176.0,161.7L176.5,164.0L177.0,162.9L177.5,163.8L178.0,161.8L178.5,161.2L179.1,163.4L179.6,163.9L180.2,163.3L180.8,162.9L181.3,162.9L181.8,162.4L182.3,160.2L182.8,161.2L183.3,160.4L183.9,158.9L184.4,158.7L185.0,159.6L185.5,159.3L186.1,160.9L186.6,161.8L187.1,159.7L187.7,161.5L188.2,161.6L188.6,161.4L189.1,159.1L189.5,158.5L190.2,158.6L190.7,158.7L191.3,159.0L191.7,161.0L192.2,162.5L192.7,162.6L193.1,161.5L193.6,162.6L194.1,163.5L194.7,160.8L195.1,163.3L195.6,164.4L196.1,164.0L196.6,163.9L197.1,162.9L197.7,161.7L198.2,164.2L198.7,162.4L199.3,164.4L199.8,165.1L200.3,162.8L200.8,162.9L201.3,165.1L201.7,164.3L202.3,162.2L202.9,162.1L203.4,162.2L203.9,165.3L204.4,165.0L204.9,162.4L205.4,165.2L205.9,165.9L206.4,164.8L206.9,163.7L207.4,164.7L208.0,163.3L208.5,163.2L209.1,167.4L209.6,166.5L210.1,166.3L210.7,168.2L211.2,166.5L211.6,168.4L212.1,168.2L212.6,165.5L213.0,165.2L213.4,164.8L213.7,163.9L214.1,164.6L214.8,162.8L215.6,163.1L216.0,161.9L216.4,165.0L216.8,162.7L217.3,163.1L217.7,163.7L218.3,165.0L218.8,163.1L219.3,165.2L219.9,163.6L220.5,163.8L221.0,163.8L221.6,161.9L222.2,163.6L222.8,162.7L223.3,162.1L223.9,165.3L224.4,162.9L225.0,164.1L225.5,165.2L226.0,164.5L226.5,163.6L227.1,164.4L227.6,164.6L228.1,165.6L228.7,162.9L229.2,164.8L229.7,163.5L230.2,163.7L230.7,165.7L231.2,164.7L231.7,164.9L232.2,165.7L232.7,166.3L233.2,164.4L233.6,165.0L234.1,164.5L234.6,164.4L235.0,165.1L235.6,163.9L236.2,164.0L236.7,163.4L237.3,164.9L237.8,163.6L238.3,163.9L238.8,163.7L239.3,160.6L239.8,161.4L240.3,162.7L240.9,162.0L241.4,159.0L241.9,158.8L242.4,160.0L242.9,158.6L243.4,159.4L243.9,158.9L244.4,161.5L244.9,162.1L245.4,162.8L245.9,160.1L246.4,162.6L246.9,162.6L247.4,160.7L247.9,163.9L248.4,164.3L248.9,161.4L249.4,164.3L250.0,162.0L250.5,162.2L251.0,164.1L251.6,163.3L252.1,160.4L252.6,161.2L253.1,161.4L253.7,160.5L254.2,159.8L254.7,160.1L255.3,161.7L255.8,158.9L256.3,161.1L256.8,160.7L257.4,159.2L257.9,160.6L258.4,161.9L259.0,161.7L259.5,160.1L260.0,164.0L260.6,163.5L261.1,164.5L261.5,161.2L262.0,162.1L262.4,161.4L262.8,164.5L263.5,162.9L264.1,162.8L264.6,164.4L265.0,166.8L265.4,166.8L265.8,164.6L266.3,164.1L266.8,166.6L267.3,164.2L267.8,163.5L268.3,159.8L268.9,158.7L269.7,160.7L270.1,159.5L270.5,158.1L271.0,161.7L271.5,160.6L272.0,161.4L272.5,158.8L273.1,162.1L273.6,159.2L274.2,162.7L274.7,161.3L275.3,161.2L275.8,162.3L276.2,164.0L276.7,161.6L277.3,161.3L277.8,163.2L278.3,162.4L278.7,162.2L279.2,162.7L279.7,162.6L280.1,163.4L280.7,164.1L281.2,164.2L281.9,166.1L282.3,164.3L282.8,165.1L283.2,163.7L283.7,164.3L284.2,162.9L284.7,163.7L285.2,162.6L285.8,165.3L286.3,164.4L286.9,162.8L287.4,163.8L287.9,165.5L288.5,162.1L289.0,164.8L289.6,163.2L290.1,163.4L290.6,164.7L291.1,163.0L291.6,163.5L292.1,164.3L292.6,165.6L293.1,163.2L293.6,165.3L294.1,165.0L294.6,164.9L295.2,164.1L295.7,164.1L296.2,163.1L296.7,163.5L297.2,163.4L297.7,166.2L298.2,164.4L298.7,164.1L299.2,163.8L299.7,166.9L300.2,167.0L300.7,166.2L301.3,164.5L301.8,164.3L302.3,164.4L302.8,165.0L303.4,163.7L303.9,164.8L304.4,163.9L304.9,166.6L305.4,166.6L305.9,164.8L306.4,163.5L306.9,166.3L307.4,163.6L307.9,163.7L308.5,162.3L309.1,163.7L309.6,164.1L310.2,164.1L310.8,162.9L311.4,164.1L311.9,162.1L312.5,163.1L313.0,162.4L313.5,163.7L314.0,162.3L314.4,162.2L314.8,163.4L315.2,163.2L316.0,165.1L316.5,165.7L316.9,167.4L317.3,167.6L317.8,168.1L318.2,168.5L318.7,166.2L319.2,165.4L319.7,167.4L320.2,163.3L320.8,164.9L321.3,164.0L321.8,161.0L322.3,163.5L322.8,163.1L323.3,161.4L323.9,161.2L324.4,161.0L325.0,157.9L325.6,159.2L326.1,159.1L326.6,160.5L327.1,160.6L327.6,161.0L328.1,160.3L328.7,161.9L329.2,161.5L329.7,161.9L330.3,160.3L330.8,159.8L331.3,160.5L331.8,161.6L332.4,160.9L332.9,164.0L333.4,163.2L333.9,163.7L334.4,163.9L335.0,164.3L335.5,163.7L336.0,161.8L336.5,165.1L337.1,164.9L337.6,163.9L338.2,164.1L338.7,164.5L339.2,162.1L339.8,164.7L340.3,162.7L340.8,161.8L341.3,162.5L341.9,164.1L342.5,161.6L343.0,163.3L343.6,163.8L344.1,161.4L344.6,160.6L345.1,160.8L345.6,161.5L346.1,162.1L346.6,162.0L347.1,162.7L347.5,161.2L348.0,162.1L348.5,163.0L349.1,165.3L349.6,163.5L350.0,164.5L350.6,162.2L351.1,162.2L351.7,162.7L352.2,164.1L352.8,163.9L353.3,163.6L353.8,161.8L354.3,162.6L354.9,162.2L355.4,162.1L356.0,160.6L356.5,163.6L357.0,160.7L357.5,163.7L358.1,163.5L358.6,159.8L359.2,161.5L359.7,163.0L360.3,163.6L360.9,161.6L361.5,160.9L362.0,160.7L362.5,163.6L363.0,160.5L363.6,161.6L364.1,159.1L364.6,159.9L365.1,161.1L365.6,157.6L366.1,160.6L366.6,160.0L367.1,162.2L367.7,162.2L368.3,161.0L369.0,164.1L369.4,162.6L369.9,160.8L370.4,160.7L371.0,162.6L371.5,162.3L372.0,161.6L372.6,160.9L373.1,161.6L373.7,161.4L374.2,163.4L374.7,159.9L375.2,162.8L375.8,163.0L376.3,159.9L376.8,163.0L377.3,162.0L377.8,162.6L378.4,160.1L378.9,160.3L379.4,160.4L379.9,162.8L380.5,161.2L381.0,160.4L381.5,160.8L382.0,160.3L382.6,159.6L383.1,159.9L383.6,162.9L384.2,160.8L384.7,163.4L385.2,160.7L385.7,160.7L386.2,161.6L386.7,160.2L387.2,160.8L387.7,163.0L388.2,162.6L388.7,162.2L389.2,161.4L389.7,162.5L390.2,162.6L390.7,161.0L391.3,161.8L391.8,159.2L392.3,162.1L392.8,161.1L393.3,162.5L393.8,162.2L394.4,160.8L394.9,159.9L395.4,163.4L395.9,160.1L396.5,161.3L397.0,160.5L397.6,160.0L398.2,161.5L398.7,162.1L399.2,159.0L399.7,160.4L400.2,158.8L400.6,159.8L401.3,159.5L401.7,159.2L402.2,160.0L402.6,160.9L403.2,164.1L403.7,162.6L404.2,161.5L404.7,164.3L405.2,164.6L405.8,162.3L406.4,161.0L407.0,161.2L407.6,160.9L408.1,162.0L408.6,161.2L409.2,162.0L409.7,162.4L410.3,163.9L410.8,165.4L411.3,165.1L411.9,163.9L412.3,164.0L412.8,164.4L413.4,163.5L413.9,162.9L414.4,161.2L414.8,161.4L415.3,163.5L415.8,159.6L416.3,160.8L416.8,161.2L417.3,162.1L417.9,159.6L418.4,160.0L419.0,160.1L419.6,160.9L420.1,161.3L420.6,163.5L421.1,163.3L421.6,163.6L422.1,160.5L422.6,160.8L423.1,163.7L423.6,164.7L424.1,163.3L424.6,164.0L425.1,162.0L425.7,163.9L426.3,166.4L426.8,166.3L427.4,166.6L427.9,167.1L428.4,164.1L428.9,163.0L429.5,162.4L430.0,162.8L430.4,162.3L430.9,162.3L431.4,160.5L431.9,159.7L432.5,159.9L433.0,158.8L433.6,159.4L434.2,157.8L434.7,161.1L435.3,159.2L435.8,162.2L436.3,161.3L436.8,160.1L437.3,159.6L437.8,160.3L438.3,162.1L438.8,162.5L439.3,160.3L439.8,160.2L440.3,162.0L440.8,162.3L441.3,161.6L441.8,161.1L442.3,162.9L442.8,161.0L443.3,162.8L443.8,164.1L444.4,166.8L444.9,166.1L445.3,167.5L445.8,165.9L446.4,164.4L446.9,163.4L447.4,165.0L447.9,162.6L448.4,160.0L448.9,158.1L449.4,159.3L449.9,159.4L450.4,158.0L451.0,157.2L451.5,159.1L452.0,160.7L452.5,158.6L453.1,158.6L453.7,160.5L454.4,161.4L454.9,162.7L455.4,160.9L455.9,163.5L456.5,163.4L457.0,162.6L457.6,161.6L458.2,164.8L458.7,162.3L459.2,164.5L459.7,162.3L460.4,162.7L461.1,165.3L461.7,163.9L462.2,167.0L462.7,165.6L463.1,164.7L463.5,165.8L464.3,166.6L464.6,167.4L465.0,168.2L465.5,164.7L465.9,165.3L466.4,164.2L467.0,166.8L467.5,163.0L468.1,162.2L468.7,161.8L469.3,162.7L469.8,164.4L470.4,164.0L470.9,163.2L471.4,164.1L471.9,163.6L472.4,161.0L472.9,160.3L473.4,163.1L474.0,162.2L474.5,159.2L475.0,161.7L475.5,160.4L476.0,160.3L476.5,160.1L477.0,159.5L477.4,158.8L478.0,160.0L478.6,160.5L479.1,163.1L479.6,160.1L480.1,163.8L480.6,161.1L481.1,162.0L481.6,164.1L482.1,164.3L482.6,162.8L483.1,161.3L483.6,162.9L484.2,162.4L484.7,164.4L485.2,161.3L485.7,161.7L486.2,163.7L486.8,160.0L487.3,161.4L487.8,162.9L488.3,162.8L488.8,159.9L489.4,159.9L489.9,160.1L490.4,163.6L490.9,161.1L491.4,163.2L492.0,163.9L492.5,161.8L493.0,161.6L493.5,164.4L494.1,163.2L494.6,161.9L495.2,163.8L495.7,162.4L496.2,162.3L496.8,161.3L497.3,164.4L497.7,165.1L498.2,163.9L498.8,165.0L499.3,161.1L499.8,161.7L500.3,162.3L500.8,163.9L501.2,163.7L501.7,161.2L502.3,160.7L502.8,161.6L503.4,162.1L504.0,164.1L504.5,161.3L505.1,163.7L505.6,163.3L506.1,163.3L506.6,162.7L507.2,161.6L507.7,160.0L508.1,159.6L508.6,159.3L509.2,160.5L509.7,157.0L510.3,156.9L510.7,158.8L511.2,156.8L511.8,157.4L512.4,159.3L513.0,162.7L513.5,161.8L514.0,164.0L514.5,163.0L515.1,162.9L515.6,159.9L516.1,159.3L516.7,159.7L517.3,161.8L517.8,163.4L518.2,163.2L519.0,170.3" stroke="#c4c420" stroke-width="1.6"/><path d="M88.8,164.3L89.1,159.0L89.6,154.5L90.1,144.6L90.6,140.0L91.1,134.4L91.7,135.0L92.3,141.6L92.8,143.4L93.4,149.2L94.0,151.1L94.5,149.4L94.9,146.4L95.4,143.4L95.9,145.9L96.3,145.4L96.8,146.2L97.3,142.9L97.9,139.7L98.5,137.9L99.1,141.2L99.7,143.1L100.3,144.0L100.8,142.9L101.4,142.1L101.9,136.3L102.4,136.4L103.0,136.6L103.5,140.1L104.1,142.1L104.6,145.0L105.1,146.5L105.6,149.0L106.2,151.5L106.7,151.4L107.2,150.1L107.7,149.0L108.1,150.5L108.6,147.8L109.0,146.0L109.6,146.9L110.1,144.7L110.7,145.0L111.2,146.4L111.7,146.2L112.2,148.3L112.8,151.5L113.3,150.4L113.8,153.3L114.4,152.4L114.9,155.1L115.4,156.2L116.0,159.0L116.5,160.8L117.1,160.8L117.5,159.7L118.0,158.8L118.4,158.9L118.9,157.6L119.4,155.2L119.9,156.5L120.4,153.8L120.9,153.0L121.4,150.5L121.8,150.1L122.4,150.7L122.9,154.3L123.5,155.8L123.9,156.3L124.4,155.8L124.9,156.5L125.3,156.1L125.8,153.7L126.4,154.6L126.9,154.5L127.5,156.6L128.0,157.9L128.5,155.4L128.9,156.7L129.4,154.9L129.8,154.1L130.3,157.5L130.8,158.0L131.5,158.9L131.9,160.2L132.4,159.9L132.9,160.8L133.5,161.1L134.0,161.1L134.5,161.6L135.1,160.3L135.6,159.1L136.1,158.3L136.6,157.6L137.1,158.3L137.7,157.0L138.2,157.7L138.8,156.8L139.3,158.1L139.8,160.1L140.3,158.6L140.9,159.4L141.3,160.0L141.8,161.0L142.2,161.6L142.7,162.2L143.2,161.1L143.7,163.1L144.2,160.5L144.7,163.3L145.2,161.8L145.7,164.2L146.1,161.9L146.6,164.8L147.1,164.2L147.7,164.9L148.2,163.5L148.7,161.7L149.2,163.1L149.7,159.9L150.2,156.6L150.8,155.7L151.3,152.8L151.8,150.3L152.3,147.0L152.9,144.3L153.5,143.2L154.0,140.7L154.4,138.0L155.1,136.5L155.7,137.2L156.1,138.0L156.6,138.8L157.1,140.4L157.6,142.2L158.1,143.7L158.6,145.6L159.1,148.4L159.7,149.2L160.1,152.1L160.6,153.0L161.1,153.7L161.6,152.7L162.1,154.5L162.6,155.4L163.1,154.9L163.6,158.0L164.1,157.8L164.6,157.4L165.1,158.3L165.6,157.0L166.1,157.4L166.6,158.5L167.1,159.3L167.6,159.1L168.1,157.2L168.6,159.1L169.1,160.1L169.5,159.7L170.1,160.6L170.7,161.1L171.2,159.2L171.7,159.7L172.2,160.4L172.8,161.4L173.3,158.7L173.9,158.6L174.4,156.6L174.9,153.3L175.4,151.1L176.0,149.6L176.5,146.8L177.0,143.4L177.6,143.2L178.1,139.4L178.6,138.4L179.1,138.8L179.7,136.7L180.2,133.9L180.8,133.3L181.3,134.3L181.8,135.3L182.3,135.3L182.9,136.9L183.4,137.2L183.9,138.7L184.5,139.6L185.0,140.6L185.5,142.5L186.0,144.3L186.6,146.3L187.1,149.1L187.6,149.0L188.1,149.1L188.6,150.5L189.0,147.6L189.4,146.5L189.9,144.9L190.4,147.4L191.0,146.8L191.5,148.3L192.1,151.3L192.6,151.7L193.0,152.5L193.5,155.8L194.0,155.8L194.4,156.9L194.9,159.8L195.5,160.1L196.0,160.7L196.5,160.0L197.0,162.9L197.5,163.6L197.9,165.3L198.5,164.4L198.9,165.4L199.4,165.0L199.9,163.0L200.4,162.9L200.9,162.4L201.3,162.3L201.9,161.0L202.4,159.5L202.9,156.4L203.4,156.8L204.0,155.5L204.5,152.3L205.1,152.9L205.5,154.6L206.0,155.8L206.5,157.3L206.9,156.1L207.5,159.5L208.0,162.3L208.6,163.0L209.2,161.6L209.7,159.7L210.3,162.1L210.8,163.2L211.4,164.7L211.9,165.7L212.4,167.5L212.9,164.6L213.4,159.6L213.8,155.0L214.3,151.1L214.7,148.5L215.2,147.4L215.7,147.5L216.3,149.4L216.9,150.0L217.4,153.8L217.9,155.1L218.5,156.7L219.0,158.3L219.5,158.8L219.9,158.2L220.4,158.0L220.8,154.4L221.4,151.8L221.9,148.4L222.5,145.0L223.0,145.2L223.6,142.2L224.1,141.1L224.6,141.9L225.1,141.4L225.5,141.0L226.0,140.2L226.5,140.5L227.1,143.9L227.7,145.0L228.3,145.1L228.8,146.1L229.4,148.2L230.0,149.9L230.6,151.5L231.2,151.0L231.7,153.7L232.3,156.2L232.9,157.2L233.4,159.7L233.9,158.0L234.5,160.9L235.1,160.1L235.5,160.3L236.1,159.8L236.7,160.3L237.1,158.2L237.6,157.7L238.2,156.2L238.8,154.0L239.3,153.6L239.8,151.1L240.3,150.0L240.9,150.7L241.4,149.0L241.9,147.2L242.4,146.7L243.0,143.9L243.5,140.7L244.0,141.0L244.5,139.1L245.0,140.9L245.5,141.0L245.9,144.0L246.3,143.7L246.9,146.4L247.5,148.7L247.9,147.7L248.4,144.8L248.9,141.2L249.4,137.7L249.9,136.4L250.5,133.5L251.0,133.5L251.6,135.2L252.1,134.4L252.7,137.1L253.3,139.3L253.8,140.8L254.4,144.9L255.0,144.7L255.6,146.1L256.2,147.1L256.8,143.5L257.3,142.6L257.9,138.9L258.3,139.6L258.8,141.6L259.2,140.6L259.7,144.9L260.2,143.9L260.8,147.7L261.3,150.2L261.9,153.6L262.4,153.8L262.9,158.0L263.5,159.5L264.0,160.8L264.5,160.7L265.1,160.3L265.6,158.8L266.1,156.3L266.6,154.3L267.1,154.2L267.5,151.3L268.0,150.6L268.5,147.7L268.9,147.5L269.5,149.8L270.1,152.1L270.6,152.4L271.2,154.3L271.7,158.0L272.3,160.4L272.7,160.5L273.2,160.5L273.6,158.7L274.1,158.6L274.6,157.7L275.2,155.9L275.8,154.3L276.3,153.3L276.8,153.1L277.2,156.5L277.7,156.8L278.1,160.1L278.7,160.4L279.2,162.2L279.8,162.5L280.3,162.9L280.8,161.6L281.3,161.6L281.9,161.5L282.4,159.9L282.9,160.0L283.5,159.0L284.0,158.5L284.5,157.9L285.1,158.1L285.6,158.6L286.1,156.9L286.7,156.2L287.2,157.4L287.7,154.0L288.2,154.8L288.7,153.3L289.2,150.4L289.8,149.9L290.3,146.8L290.9,146.9L291.4,143.4L291.9,141.8L292.3,140.5L292.8,141.7L293.2,139.9L293.8,141.3L294.3,145.2L294.9,145.9L295.3,146.1L295.8,145.5L296.3,145.4L296.8,143.4L297.2,146.1L297.8,146.5L298.4,150.5L298.9,150.9L299.5,152.4L300.0,148.9L300.6,151.8L301.1,150.2L301.6,153.1L302.2,154.8L302.7,158.0L303.2,158.8L303.7,161.4L304.3,162.8L304.8,162.3L305.3,161.7L305.9,161.5L306.4,162.5L307.0,162.2L307.5,159.9L307.9,157.2L308.4,156.0L308.9,154.2L309.3,151.4L309.9,150.4L310.5,147.1L311.0,145.5L311.7,147.3L312.1,150.1L312.6,152.7L313.2,153.3L313.8,155.3L314.2,156.7L314.7,155.6L315.1,156.4L315.6,156.9L316.1,157.0L316.6,158.0L317.2,161.8L317.7,164.2L318.2,164.5L318.7,166.9L319.3,164.0L319.8,159.9L320.4,155.5L320.9,152.7L321.4,151.6L322.0,149.1L322.5,149.1L322.9,146.9L323.4,147.5L323.8,148.0L324.3,149.1L324.8,148.4L325.3,148.7L325.8,148.3L326.3,148.2L326.9,146.7L327.4,146.4L327.9,145.6L328.4,144.5L328.9,145.9L329.5,145.0L330.0,143.3L330.5,143.1L331.0,142.4L331.5,143.3L332.0,142.4L332.4,140.9L332.9,142.3L333.4,142.2L333.9,142.0L334.3,143.3L334.8,145.9L335.2,144.1L335.8,145.3L336.3,147.3L336.9,148.9L337.4,149.9L337.9,148.8L338.5,150.2L339.0,148.6L339.5,150.1L340.0,152.8L340.4,153.9L340.8,154.7L341.3,155.9L341.8,155.0L342.3,153.7L342.8,153.1L343.3,152.6L343.7,150.5L344.2,152.8L344.7,154.3L345.1,154.3L345.6,154.7L346.2,154.9L346.7,155.8L347.3,156.7L347.8,157.6L348.3,157.8L348.7,162.6L349.1,162.2L349.6,163.5L350.1,161.3L350.7,160.2L351.2,155.8L351.7,154.2L352.3,151.7L352.8,149.1L353.4,148.6L353.9,148.1L354.4,150.5L355.0,153.1L355.5,154.3L356.1,157.4L356.6,159.4L357.2,159.9L357.6,160.9L358.1,162.7L358.6,163.9L359.1,163.7L359.5,164.8L360.1,166.2L360.6,166.7L361.2,166.9L361.6,165.9L362.1,164.7L362.5,163.2L363.0,162.6L363.5,159.0L364.1,157.0L364.6,157.8L365.2,155.6L365.7,156.2L366.2,157.6L366.7,158.1L367.3,158.4L367.8,160.2L368.3,159.9L368.9,160.1L369.4,159.8L369.9,159.8L370.4,161.2L370.8,160.7L371.3,158.0L371.7,157.4L372.2,157.0L372.7,156.2L373.2,154.7L373.6,156.1L374.1,154.6L374.6,154.5L375.2,153.9L375.7,152.5L376.3,152.7L376.8,150.3L377.3,150.2L377.8,149.2L378.2,147.7L378.6,145.4L379.2,142.0L379.8,140.5L380.3,142.0L380.8,144.7L381.4,148.4L382.0,150.6L382.5,151.9L382.9,151.7L383.4,153.0L383.9,150.8L384.3,151.6L384.9,150.1L385.4,149.8L385.9,148.6L386.4,148.0L387.0,150.1L387.6,152.6L388.0,152.5L388.5,151.4L389.1,151.1L389.7,151.4L390.2,151.4L390.7,150.2L391.2,152.8L391.8,150.9L392.3,151.6L392.8,152.8L393.3,152.4L393.8,152.7L394.4,152.8L394.9,152.3L395.4,153.0L395.9,152.6L396.4,154.2L397.0,154.4L397.5,154.3L398.0,154.3L398.5,153.9L399.1,153.3L399.6,151.3L400.1,150.7L400.6,150.4L401.3,151.8L401.9,151.1L402.4,155.3L402.9,153.9L403.3,158.1L403.8,159.7L404.2,158.5L404.7,160.3L405.2,159.9L405.8,160.5L406.3,161.7L406.8,162.3L407.3,160.7L407.9,160.7L408.4,162.9L408.9,162.1L409.5,163.2L410.0,161.2L410.5,163.1L411.0,161.0L411.6,160.6L412.1,160.5L412.6,161.9L413.1,160.0L413.6,160.1L414.0,159.8L414.5,159.4L415.0,160.8L415.4,161.3L416.0,161.6L416.5,163.8L417.1,162.8L417.7,164.3L418.3,162.9L418.9,160.2L419.5,156.4L420.0,154.9L420.6,152.5L421.1,150.5L421.7,147.9L422.3,146.7L422.7,145.9L423.2,143.3L423.7,139.5L424.2,139.4L424.6,137.8L425.2,134.9L425.8,133.7L426.3,129.1L426.9,126.9L427.5,128.5L428.1,128.0L428.8,131.1L429.3,136.4L429.9,139.0L430.5,143.7L431.0,144.8L431.5,145.2L432.1,144.9L432.7,144.7L433.2,148.1L433.7,148.5L434.3,149.3L434.8,148.8L435.3,148.8L435.9,151.0L436.4,151.6L436.9,151.9L437.4,151.8L437.8,152.0L438.3,149.7L438.7,148.4L439.2,149.1L439.7,148.2L440.2,148.2L440.7,147.9L441.2,149.8L441.8,148.9L442.3,150.8L442.8,151.6L443.4,150.5L443.9,150.3L444.4,148.5L444.9,147.2L445.4,146.5L445.8,147.7L446.3,149.9L446.7,149.4L447.2,149.9L447.7,150.1L448.2,148.1L448.6,146.9L449.1,148.5L449.6,147.2L450.2,145.2L450.7,147.0L451.3,146.9L451.8,146.8L452.3,144.4L452.7,144.1L453.2,144.9L453.6,144.8L454.2,145.0L454.8,148.9L455.3,148.9L455.9,154.4L456.5,154.5L456.9,154.7L457.3,154.6L457.8,151.7L458.3,150.3L458.8,149.6L459.4,148.0L459.9,147.0L460.5,147.0L461.0,144.9L461.6,144.9L462.1,143.2L462.6,140.7L463.2,142.9L463.7,147.1L464.3,147.5L464.7,148.7L465.2,152.2L465.6,154.4L466.1,156.8L466.6,157.9L467.1,157.6L467.6,158.1L468.0,157.7L468.5,158.6L469.0,157.9L469.5,155.8L470.0,156.8L470.4,154.4L470.9,154.4L471.3,153.4L471.9,152.9L472.4,148.0L473.0,145.6L473.4,143.9L473.9,140.3L474.3,139.0L474.8,137.6L475.3,139.5L475.9,141.4L476.4,142.9L477.0,145.4L477.5,145.2L478.0,146.8L478.4,145.6L478.9,147.1L479.4,147.3L479.9,149.0L480.4,147.6L480.8,146.8L481.3,147.4L481.7,148.3L482.3,148.7L482.8,149.9L483.4,150.0L483.8,150.1L484.3,148.6L484.7,147.0L485.2,145.5L485.7,143.4L486.3,141.2L486.9,139.5L487.4,139.3L488.0,138.7L488.6,141.4L489.0,141.0L489.5,141.2L489.9,139.5L490.4,140.9L490.9,141.9L491.4,143.3L491.9,143.6L492.4,145.1L493.0,148.5L493.5,149.6L494.0,148.7L494.5,149.0L495.1,151.6L495.6,151.7L496.1,153.4L496.6,154.9L497.2,157.3L497.7,156.5L498.2,158.3L498.7,159.0L499.3,162.4L499.8,161.9L500.3,165.3L500.8,165.4L501.3,165.6L501.8,165.1L502.2,166.9L502.7,164.4L503.1,165.3L503.6,165.1L504.1,163.1L504.6,159.6L505.1,157.8L505.6,156.3L506.1,155.3L506.7,151.0L507.2,150.9L507.7,148.4L508.1,144.9L508.6,143.4L509.1,140.4L509.5,137.2L510.1,136.0L510.6,133.8L511.2,134.6L511.6,136.3L512.1,134.8L512.6,136.0L513.0,135.6L513.5,137.0L514.0,136.5L514.6,138.8L515.1,137.9L515.6,138.4L516.1,139.9L516.6,140.0L517.1,142.3L517.6,145.9L518.3,150.5L518.9,157.4L519.4,162.5" stroke="#0000ff" stroke-width="2.0"/><path d="M88.8,133.7L89.1,122.1L89.4,104.8L89.8,85.2L90.3,72.3L90.7,58.8L91.0,59.4L91.4,63.7L91.8,65.3L92.2,73.7L92.5,79.7L92.9,81.0L93.3,84.0L93.6,86.0L94.0,85.0L94.4,86.4L94.8,84.6L95.1,86.8L95.5,91.1L95.9,99.9L96.2,108.9L96.6,112.8L97.0,115.2L97.4,110.6L97.7,106.1L98.1,95.5L98.5,88.3L98.9,83.2L99.2,79.4L99.6,78.0L99.9,80.5L100.3,85.8L100.8,86.7L101.1,85.8L101.4,85.9L101.8,80.3L102.2,80.0L102.5,76.6L102.9,69.7L103.3,68.4L103.7,66.8L104.0,63.7L104.4,65.8L104.7,69.6L105.1,68.7L105.4,73.9L105.8,74.7L106.1,79.1L106.5,81.7L106.9,78.7L107.2,77.1L107.6,76.3L108.0,76.8L108.4,73.1L108.8,72.3L109.2,73.5L109.6,75.6L109.9,74.2L110.3,75.4L110.6,78.2L111.0,77.7L111.3,82.0L111.7,82.6L112.0,86.9L112.4,90.8L112.8,89.0L113.2,93.4L113.5,96.0L113.9,96.7L114.3,99.9L114.7,105.8L115.1,108.3L115.5,106.8L115.9,111.3L116.2,114.0L116.6,111.8L117.0,114.0L117.4,111.3L117.8,112.0L118.2,112.3L118.6,110.4L119.0,109.6L119.3,104.9L119.7,104.3L120.1,104.3L120.5,100.1L120.8,96.2L121.2,92.7L121.5,92.4L121.9,88.4L122.3,84.9L122.7,88.4L123.0,87.3L123.4,89.3L123.8,90.3L124.2,93.4L124.6,95.0L125.0,95.8L125.4,99.6L125.8,98.1L126.1,101.7L126.5,98.9L126.9,102.7L127.3,103.3L127.7,102.3L128.1,103.7L128.5,102.2L128.9,104.9L129.2,104.3L129.6,104.7L130.0,109.5L130.3,108.8L130.6,110.4L130.9,114.1L131.3,113.3L131.7,115.4L132.0,113.5L132.4,116.5L132.8,113.8L133.2,112.7L133.6,116.4L134.0,112.4L134.4,115.5L134.8,115.3L135.1,113.5L135.5,110.9L135.9,111.2L136.3,112.2L136.6,113.4L137.0,114.9L137.3,117.0L137.7,114.8L138.0,114.3L138.4,116.4L138.7,114.7L139.1,114.4L139.4,116.0L139.8,116.1L140.1,112.7L140.5,113.9L140.9,114.6L141.3,114.8L141.8,113.5L142.1,116.2L142.4,113.9L142.8,117.4L143.2,119.0L143.5,120.8L143.9,120.5L144.3,120.2L144.7,121.2L145.1,124.5L145.5,123.8L145.9,126.4L146.2,124.2L146.6,127.0L147.0,123.9L147.3,122.0L147.7,121.5L148.1,121.2L148.4,119.9L148.8,117.2L149.1,114.1L149.5,113.3L149.9,113.1L150.2,108.9L150.6,108.4L150.9,102.1L151.3,104.2L151.7,101.4L152.0,97.2L152.4,94.3L152.7,91.3L153.1,89.8L153.5,83.0L153.8,82.5L154.2,79.2L154.5,75.5L154.9,75.1L155.3,73.2L155.6,69.1L156.0,70.9L156.4,69.5L156.7,69.9L157.1,71.3L157.5,69.8L157.8,73.6L158.2,74.3L158.6,78.3L159.0,77.4L159.3,82.1L159.7,83.7L160.1,85.1L160.4,88.1L160.8,86.0L161.2,90.0L161.5,91.6L161.9,93.6L162.3,94.1L162.7,94.3L163.1,96.6L163.4,100.2L163.8,100.0L164.2,101.1L164.5,103.9L164.9,105.8L165.2,107.4L165.5,106.3L165.9,111.2L166.3,110.9L166.6,114.5L166.9,112.5L167.3,117.9L167.6,117.1L167.9,119.2L168.3,119.2L168.7,117.8L169.0,113.6L169.3,113.4L169.7,111.2L170.1,111.7L170.4,107.0L170.8,104.8L171.2,101.8L171.6,99.4L172.0,100.5L172.3,98.2L172.7,93.2L173.1,92.6L173.4,89.4L173.8,87.1L174.2,84.0L174.6,82.7L175.0,78.5L175.4,76.3L175.8,75.1L176.1,71.6L176.5,70.6L176.8,71.0L177.2,65.3L177.6,64.0L177.9,65.5L178.3,60.9L178.6,60.5L178.9,62.1L179.3,60.1L179.6,57.8L180.0,56.7L180.4,57.5L180.7,57.7L181.1,60.2L181.5,61.5L181.9,61.3L182.3,62.5L182.7,63.6L183.0,64.3L183.4,65.6L183.8,67.0L184.2,64.4L184.5,66.6L184.9,68.3L185.3,72.2L185.7,74.3L186.1,76.3L186.5,81.2L186.8,81.8L187.2,83.2L187.6,85.3L188.0,87.4L188.3,89.1L188.7,89.7L189.1,89.9L189.4,89.3L189.8,90.8L190.1,90.9L190.5,90.7L190.8,92.8L191.2,91.8L191.7,94.4L192.0,94.3L192.4,92.3L192.8,95.1L193.2,95.1L193.5,97.2L193.9,99.8L194.2,102.8L194.6,105.8L194.9,107.7L195.3,107.9L195.7,111.8L196.1,113.1L196.4,114.2L196.8,119.2L197.2,121.5L197.6,125.6L198.0,125.2L198.4,128.8L198.8,128.1L199.2,126.1L199.5,128.0L199.9,124.8L200.2,124.2L200.6,120.3L201.0,118.0L201.3,120.0L201.7,114.3L202.0,113.2L202.4,111.5L202.7,109.1L203.0,110.2L203.4,108.9L203.7,105.6L204.1,103.1L204.4,104.5L204.8,102.7L205.1,101.8L205.5,105.7L205.8,106.2L206.2,108.2L206.5,111.0L206.9,113.8L207.3,115.2L207.6,119.0L208.0,121.5L208.3,120.7L208.7,118.0L209.0,119.9L209.4,115.5L209.7,115.5L210.1,115.0L210.4,111.9L210.8,110.6L211.1,107.9L211.5,104.0L211.9,102.0L212.2,101.8L212.6,101.2L213.0,97.7L213.4,96.7L213.8,97.1L214.1,94.2L214.5,94.5L214.9,93.7L215.3,95.2L215.7,91.6L216.1,93.2L216.5,97.0L216.8,98.1L217.2,97.3L217.6,99.3L218.0,101.3L218.3,104.3L218.7,107.0L219.0,104.8L219.4,105.2L219.8,107.6L220.2,106.3L220.6,107.7L220.9,107.6L221.3,106.2L221.6,103.6L222.0,99.7L222.4,94.0L222.8,92.9L223.1,86.2L223.5,81.4L223.8,77.1L224.2,72.4L224.6,64.1L225.0,59.9L225.3,55.7L225.7,49.8L226.1,51.6L226.4,56.9L226.7,60.7L227.1,66.6L227.5,68.1L227.9,73.8L228.2,78.2L228.6,78.9L229.0,81.8L229.4,85.5L229.7,84.4L230.2,86.5L230.6,92.8L231.0,94.6L231.4,95.7L231.7,101.7L232.1,102.9L232.5,105.9L232.9,110.4L233.3,112.8L233.7,117.6L234.1,122.0L234.5,122.7L234.8,126.2L235.2,122.8L235.6,122.9L236.0,121.3L236.4,121.0L236.7,116.6L237.0,115.6L237.4,111.7L237.8,108.0L238.1,104.1L238.5,98.3L238.9,93.1L239.2,84.4L239.6,81.0L239.9,80.4L240.3,76.6L240.6,76.7L241.0,79.1L241.3,79.4L241.7,82.9L242.1,80.6L242.4,75.8L242.8,76.1L243.2,69.8L243.5,63.9L243.9,60.7L244.3,57.6L244.7,51.0L245.0,46.5L245.3,45.5L245.8,45.2L246.2,51.5L246.5,55.9L246.8,62.5L247.2,63.0L247.5,65.4L247.9,69.4L248.4,67.3L248.7,65.8L249.1,61.6L249.4,56.6L249.8,53.5L250.2,50.1L250.6,43.8L250.9,42.7L251.3,40.8L251.6,44.3L252.0,44.6L252.3,44.8L252.7,50.5L253.1,50.3L253.5,51.3L253.8,53.1L254.2,58.7L254.6,60.1L255.0,60.5L255.3,63.0L255.7,65.1L256.1,63.5L256.4,67.1L256.8,67.7L257.1,69.3L257.5,66.1L257.9,69.3L258.2,69.9L258.6,72.3L259.0,71.1L259.4,73.4L259.9,75.6L260.3,74.5L260.6,76.7L261.0,80.1L261.4,79.2L261.8,86.8L262.2,87.6L262.5,92.0L262.9,94.9L263.3,100.3L263.6,101.9L264.0,105.9L264.4,106.1L264.7,112.2L265.1,113.9L265.4,114.2L265.8,111.8L266.2,109.4L266.5,105.7L266.8,98.2L267.2,96.0L267.5,87.9L267.9,85.9L268.3,80.2L268.6,82.1L269.0,83.6L269.4,84.6L269.7,85.9L270.1,86.8L270.5,91.5L270.8,94.0L271.2,99.0L271.5,101.1L271.9,103.7L272.3,106.5L272.6,105.6L272.9,107.2L273.3,110.0L273.7,109.4L274.0,109.6L274.4,110.5L274.8,107.1L275.1,107.0L275.5,104.1L275.9,101.9L276.4,103.9L276.8,100.1L277.1,103.6L277.5,102.9L277.9,104.8L278.3,104.1L278.7,108.4L279.0,110.8L279.4,109.4L279.8,112.2L280.2,114.2L280.6,114.2L280.9,115.8L281.3,115.0L281.7,112.5L282.1,112.6L282.5,111.2L282.8,107.8L283.2,106.3L283.6,104.7L284.0,102.6L284.3,100.1L284.7,100.8L285.0,101.8L285.4,101.0L285.8,97.7L286.1,98.9L286.5,98.9L286.9,98.1L287.2,95.8L287.6,97.3L287.9,96.7L288.3,94.6L288.7,95.0L289.1,91.8L289.5,87.6L289.9,87.1L290.3,87.3L290.6,82.9L291.0,85.2L291.4,82.2L291.8,80.6L292.1,75.9L292.5,73.3L292.8,75.5L293.2,72.7L293.6,71.7L294.0,72.0L294.3,73.5L294.7,72.5L295.1,75.2L295.5,73.6L295.9,78.4L296.3,78.3L296.7,77.6L297.1,79.2L297.5,81.9L297.9,80.4L298.3,83.0L298.7,85.0L299.1,86.2L299.4,84.2L299.7,87.6L300.2,88.8L300.5,91.7L300.9,90.8L301.3,95.4L301.6,98.1L301.9,102.9L302.3,104.8L302.6,106.5L303.0,110.4L303.4,115.5L303.8,117.1L304.1,115.9L304.5,113.3L304.9,115.4L305.2,114.5L305.6,110.4L306.0,109.6L306.3,107.2L306.7,104.6L307.0,106.3L307.4,102.2L307.8,100.4L308.2,102.5L308.5,97.4L308.8,98.7L309.2,97.2L309.6,92.6L309.9,90.6L310.3,87.4L310.7,87.1L311.1,86.4L311.4,84.3L311.8,83.0L312.2,84.0L312.5,84.8L312.9,87.6L313.3,86.9L313.6,87.7L314.0,90.7L314.4,89.8L314.8,93.9L315.1,93.4L315.5,91.2L315.9,90.5L316.2,92.8L316.6,90.3L316.9,91.1L317.3,90.2L317.7,89.3L318.1,85.0L318.4,82.5L318.8,80.0L319.2,73.1L319.6,70.4L319.9,69.4L320.3,65.2L320.7,66.3L321.0,61.7L321.4,61.4L321.8,62.6L322.1,63.2L322.5,63.2L322.8,63.0L323.2,64.8L323.5,68.1L323.9,69.9L324.3,70.2L324.6,70.0L325.0,72.4L325.3,71.0L325.7,71.1L326.0,74.6L326.4,72.4L326.7,71.8L327.1,74.2L327.5,70.3L327.9,69.5L328.2,67.2L328.6,68.2L329.0,64.8L329.4,60.2L329.7,57.7L330.1,59.8L330.4,55.7L330.9,58.9L331.3,61.1L331.6,63.6L332.0,65.8L332.3,67.0L332.7,66.1L333.0,66.0L333.4,61.9L333.8,62.5L334.1,61.8L334.5,63.0L334.8,66.2L335.2,65.9L335.6,67.2L336.0,68.0L336.4,65.6L336.7,69.3L337.1,69.8L337.5,69.5L337.9,68.8L338.2,70.9L338.6,72.5L339.0,71.7L339.4,74.2L339.7,78.3L340.1,80.1L340.4,83.7L340.8,84.5L341.2,84.1L341.5,84.7L341.9,81.1L342.2,81.3L342.6,81.5L343.0,80.3L343.3,77.8L343.7,81.6L344.1,80.4L344.4,84.5L344.8,85.4L345.1,86.5L345.5,87.6L345.9,91.6L346.2,89.9L346.6,94.8L347.0,93.6L347.4,95.0L347.7,97.4L348.0,98.5L348.5,106.9L348.9,109.0L349.3,113.4L349.6,112.0L350.0,111.2L350.4,111.3L350.8,108.0L351.2,104.3L351.6,102.3L352.0,94.6L352.4,89.5L352.8,89.7L353.2,90.3L353.6,91.5L354.0,93.9L354.4,97.7L354.7,99.6L355.1,100.4L355.4,101.1L355.8,105.5L356.2,107.3L356.6,110.9L356.9,111.3L357.3,112.0L357.7,114.5L358.0,116.1L358.4,120.5L358.8,122.0L359.1,122.7L359.5,123.4L359.8,126.8L360.2,127.0L360.6,128.2L360.9,127.6L361.3,131.2L361.6,128.3L362.0,127.5L362.3,125.0L362.7,124.5L363.0,122.9L363.4,120.9L363.8,120.6L364.1,117.3L364.5,117.0L364.8,115.4L365.2,111.3L365.5,112.5L365.9,107.5L366.3,106.7L366.6,107.9L367.0,103.6L367.4,103.4L367.7,103.3L368.1,105.0L368.5,104.6L368.8,101.0L369.2,102.7L369.6,103.6L369.9,102.4L370.2,101.9L370.6,102.6L371.0,104.6L371.4,107.3L371.7,109.9L372.0,114.6L372.4,114.4L372.8,110.6L373.1,111.4L373.5,107.7L373.8,101.2L374.2,97.5L374.6,97.5L374.9,95.7L375.3,96.0L375.7,94.0L376.1,97.0L376.4,96.2L376.8,94.5L377.1,93.8L377.5,92.3L377.9,88.5L378.2,84.6L378.6,83.9L379.0,79.5L379.3,78.3L379.6,78.1L380.0,78.4L380.3,80.8L380.7,81.9L381.1,81.4L381.4,84.2L381.8,84.0L382.1,82.9L382.5,85.2L382.8,84.0L383.2,84.3L383.6,87.0L383.9,85.8L384.3,85.7L384.6,86.9L385.0,88.0L385.4,88.2L385.8,90.3L386.2,90.2L386.5,89.4L386.9,93.0L387.3,89.6L387.7,90.9L388.1,90.9L388.5,92.1L388.8,91.8L389.2,91.6L389.5,92.2L389.9,90.5L390.2,90.6L390.6,91.1L390.9,91.9L391.3,92.0L391.7,89.6L392.0,90.1L392.4,93.2L392.7,93.2L393.1,94.0L393.4,91.2L393.8,92.6L394.1,93.6L394.5,93.4L394.9,94.1L395.3,96.2L395.7,93.6L396.1,93.9L396.6,92.8L396.9,93.8L397.3,93.5L397.6,91.9L398.1,92.2L398.4,96.6L398.8,97.9L399.2,95.1L399.5,93.0L399.9,90.3L400.3,89.8L400.7,86.7L401.1,85.4L401.4,81.9L401.7,79.7L402.1,77.2L402.5,80.2L402.8,82.2L403.1,81.7L403.5,84.8L403.9,88.3L404.3,91.0L404.7,97.3L405.1,99.9L405.5,99.6L405.8,102.3L406.2,103.3L406.6,104.6L407.0,104.8L407.3,108.6L407.7,107.1L408.0,107.5L408.4,108.5L408.7,112.9L409.1,113.7L409.5,114.7L409.9,114.7L410.2,112.1L410.6,112.5L411.0,111.8L411.4,114.0L411.8,109.8L412.2,110.8L412.6,112.3L413.0,112.3L413.3,109.7L413.7,110.4L414.1,111.0L414.5,111.5L414.9,113.1L415.3,111.2L415.7,114.8L416.1,113.2L416.4,113.8L416.8,112.0L417.2,113.4L417.6,109.3L418.0,111.5L418.3,107.5L418.6,107.1L419.0,105.6L419.4,104.0L419.7,101.1L420.1,99.4L420.5,93.7L420.8,92.9L421.2,89.6L421.5,86.8L421.9,80.3L422.3,78.1L422.6,70.3L423.0,65.0L423.3,60.2L423.7,60.0L424.1,52.6L424.5,51.5L424.8,45.5L425.2,44.9L425.6,40.4L425.9,39.3L426.3,35.6L426.7,31.1L427.1,27.2L427.5,26.7L427.9,24.4L428.2,26.8L428.6,30.8L429.0,35.3L429.4,40.1L429.7,39.7L430.1,43.6L430.5,48.2L430.8,50.7L431.2,52.9L431.6,56.9L431.9,58.5L432.3,61.1L432.6,67.5L433.0,67.8L433.3,72.0L433.7,72.2L434.1,76.4L434.4,78.3L434.8,75.6L435.2,79.2L435.5,81.4L435.9,81.6L436.3,79.4L436.6,82.8L437.0,83.6L437.3,81.7L437.7,85.1L438.1,86.3L438.5,85.6L438.8,89.4L439.1,90.2L439.5,86.9L439.9,88.2L440.2,87.6L440.6,83.6L440.9,84.3L441.3,84.6L441.7,80.9L442.0,80.8L442.4,81.9L442.8,80.8L443.1,80.4L443.5,76.2L443.8,80.2L444.2,77.7L444.6,78.9L444.9,80.1L445.3,85.2L445.6,86.7L446.0,88.4L446.4,90.2L446.7,91.1L447.1,91.1L447.5,88.0L447.8,88.6L448.2,84.5L448.5,81.3L448.9,83.6L449.3,78.2L449.7,79.5L450.0,77.6L450.4,74.5L450.8,73.8L451.2,71.0L451.5,70.0L451.9,72.0L452.3,70.7L452.6,70.2L453.0,68.5L453.3,66.6L453.7,70.1L454.1,71.7L454.4,70.3L454.8,73.4L455.1,73.1L455.5,78.4L455.9,78.6L456.2,76.5L456.6,79.2L456.9,78.4L457.3,76.3L457.6,75.7L458.0,76.2L458.4,74.5L458.7,73.5L459.1,75.6L459.4,74.2L459.8,74.9L460.2,74.2L460.6,75.3L460.9,75.7L461.3,74.9L461.6,75.1L462.0,74.6L462.4,77.2L462.8,78.3L463.1,77.9L463.5,77.8L463.8,82.5L464.2,85.7L464.6,90.1L464.9,92.6L465.3,100.3L465.7,103.0L466.0,105.3L466.4,104.0L466.8,105.8L467.2,107.8L467.5,106.0L467.9,110.5L468.3,106.9L468.6,106.4L469.0,108.5L469.4,105.1L469.8,105.4L470.1,104.4L470.5,100.6L470.9,97.8L471.2,98.3L471.6,96.1L472.0,92.4L472.3,85.5L472.7,82.0L473.1,77.6L473.5,71.0L473.8,70.6L474.2,67.2L474.6,66.0L474.9,64.6L475.3,63.8L475.6,61.4L476.0,63.1L476.4,64.2L476.7,60.7L477.1,61.6L477.4,66.4L477.8,63.3L478.2,67.8L478.5,66.2L478.9,66.3L479.3,67.3L479.6,69.9L480.0,69.3L480.4,67.3L480.8,70.6L481.1,68.9L481.5,71.3L481.9,70.4L482.2,72.5L482.6,71.6L482.9,71.2L483.3,74.6L483.7,75.1L484.0,73.6L484.4,74.0L484.8,74.8L485.2,75.6L485.6,74.3L486.0,77.7L486.4,75.9L486.8,79.0L487.2,77.6L487.5,79.6L487.9,80.2L488.2,77.9L488.6,77.4L488.9,80.3L489.3,80.8L489.6,80.3L490.0,81.0L490.4,81.1L490.8,80.8L491.2,82.8L491.5,83.5L491.9,83.6L492.3,86.0L492.7,85.0L493.1,87.4L493.5,88.6L493.8,88.8L494.2,90.2L494.5,90.8L494.9,94.5L495.2,97.0L495.6,99.2L495.9,100.2L496.3,102.6L496.7,102.5L497.0,103.6L497.4,107.6L497.7,107.9L498.1,106.9L498.4,112.0L498.8,112.4L499.1,115.0L499.5,114.3L499.9,116.8L500.3,118.2L500.6,119.8L501.0,122.4L501.4,121.4L501.8,123.4L502.2,124.9L502.6,120.8L502.9,123.4L503.3,121.5L503.6,118.8L504.0,115.2L504.4,115.1L504.7,111.4L505.1,109.2L505.5,108.2L505.8,106.5L506.2,105.6L506.6,102.1L506.9,100.4L507.3,97.0L507.7,92.3L508.1,91.1L508.4,87.7L508.8,87.4L509.2,83.7L509.6,82.7L510.0,79.3L510.4,76.0L510.8,74.7L511.1,75.6L511.5,71.3L512.0,70.2L512.3,67.6L512.7,65.4L513.1,64.8L513.5,64.4L513.8,62.2L514.1,62.3L514.6,60.3L515.0,61.1L515.4,61.9L515.7,66.5L516.0,66.8L516.3,69.5L516.8,71.3L517.2,71.0L517.6,71.8L517.9,78.0L518.5,133.7" stroke="#000" stroke-width="1.1"/></g><line x1="129.3" y1="178.6" x2="129.3" y2="101.3" stroke="#ff2020" stroke-width="1" stroke-dasharray="3.2,1.9"/><rect x="67.65" y="18.4" width="472.8" height="166.95" fill="none" stroke="#4a4a4a" stroke-width="1.1"/><text x="3.25" y="221.80" font-size="15.8" textLength="10.86" lengthAdjust="spacingAndGlyphs" fill="#303030" font-family="DejaVu Sans, Liberation Sans, sans-serif" stroke="#303030" stroke-width="0.25">B</text><text y="221.8" font-size="11.3" fill="#303030" font-family="DejaVu Sans, Liberation Sans, sans-serif" stroke="#303030" stroke-width="0.25"><tspan font-style="italic" x="167" textLength="13.8" lengthAdjust="spacingAndGlyphs">MT</tspan><tspan x="183.8" textLength="6.6" lengthAdjust="spacingAndGlyphs">−</tspan><tspan font-style="italic" x="193.3" textLength="22.5" lengthAdjust="spacingAndGlyphs">RNR</tspan><tspan x="216.3" textLength="4.8" lengthAdjust="spacingAndGlyphs">1</tspan><tspan x="225.3" textLength="82.5" lengthAdjust="spacingAndGlyphs">coverage profile</tspan></text><text transform="translate(35.6,285.5) scale(0.87,1) rotate(-90)" text-anchor="middle" font-size="11.1" fill="#303030" font-family="DejaVu Sans, Liberation Sans, sans-serif" stroke="#303030" stroke-width="0.25">mtDNA coverage</text><text x="55.16" y="342.60" font-size="11.0" textLength="6.30" lengthAdjust="spacingAndGlyphs" fill="#303030" font-family="DejaVu Sans, Liberation Sans, sans-serif" stroke="#303030" stroke-width="0.25">0</text><text x="49.07" y="318.25" font-size="11.0" textLength="12.60" lengthAdjust="spacingAndGlyphs" fill="#303030" font-family="DejaVu Sans, Liberation Sans, sans-serif" stroke="#303030" stroke-width="0.25">25</text><text x="48.86" y="293.90" font-size="11.0" textLength="12.60" lengthAdjust="spacingAndGlyphs" fill="#303030" font-family="DejaVu Sans, Liberation Sans, sans-serif" stroke="#303030" stroke-width="0.25">50</text><text x="49.07" y="269.55" font-size="11.0" textLength="12.60" lengthAdjust="spacingAndGlyphs" fill="#303030" font-family="DejaVu Sans, Liberation Sans, sans-serif" stroke="#303030" stroke-width="0.25">75</text><text x="42.56" y="245.20" font-size="11.0" textLength="18.90" lengthAdjust="spacingAndGlyphs" fill="#303030" font-family="DejaVu Sans, Liberation Sans, sans-serif" stroke="#303030" stroke-width="0.25">100</text><text x="122.55" y="355.20" font-size="11.0" textLength="18.90" lengthAdjust="spacingAndGlyphs" fill="#303030" font-family="DejaVu Sans, Liberation Sans, sans-serif" stroke="#303030" stroke-width="0.25">800</text><text x="184.29" y="355.20" font-size="11.0" textLength="25.19" lengthAdjust="spacingAndGlyphs" fill="#303030" font-family="DejaVu Sans, Liberation Sans, sans-serif" stroke="#303030" stroke-width="0.25">1000</text><text x="249.39" y="355.20" font-size="11.0" textLength="25.19" lengthAdjust="spacingAndGlyphs" fill="#303030" font-family="DejaVu Sans, Liberation Sans, sans-serif" stroke="#303030" stroke-width="0.25">1200</text><text x="314.49" y="355.20" font-size="11.0" textLength="25.19" lengthAdjust="spacingAndGlyphs" fill="#303030" font-family="DejaVu Sans, Liberation Sans, sans-serif" stroke="#303030" stroke-width="0.25">1400</text><text x="379.59" y="355.20" font-size="11.0" textLength="25.19" lengthAdjust="spacingAndGlyphs" fill="#303030" font-family="DejaVu Sans, Liberation Sans, sans-serif" stroke="#303030" stroke-width="0.25">1600</text><text x="265.67" y="371.40" font-size="14.0" textLength="107.09" lengthAdjust="spacingAndGlyphs" fill="#303030" font-family="DejaVu Sans, Liberation Sans, sans-serif" stroke="#303030" stroke-width="0.25">mtDNA position</text><path d="M83.0,234.4L84.0,234.9L85.0,234.9L86.0,234.8L87.0,234.5L88.0,236.1L89.0,236.8L90.0,237.0L91.0,237.4L92.0,237.3L93.0,237.3L94.0,238.2L95.0,238.3L96.0,237.3L97.0,238.3L98.0,237.2L99.0,236.8L100.0,236.1L101.0,237.2L102.0,236.4L103.0,236.2L104.0,235.4L105.0,234.1L106.0,234.1L107.0,234.0L108.0,233.0L109.0,234.3L110.0,233.4L111.0,233.0L112.0,234.1L113.0,233.0L114.0,234.3L115.0,233.4L116.0,233.5L117.0,233.0L118.0,233.2L119.0,232.6L120.0,232.3L121.0,233.8L122.0,232.9L123.0,233.9L124.0,233.2L125.0,234.6L126.0,234.6L127.0,233.9L128.0,233.4L129.0,232.6L130.0,232.4L131.2,230.6L132.4,230.4L133.6,230.1L134.7,229.9L135.9,231.9L137.0,232.6L138.0,232.9L139.0,233.8L140.0,234.9L141.0,234.5L142.0,235.1L143.0,233.8L144.0,232.8L145.0,233.3L146.0,234.6L147.0,235.4L148.0,235.0L149.0,235.3L150.0,235.7L151.0,236.4L152.0,235.9L153.0,236.8L154.0,237.1L155.0,237.4L156.0,237.0L157.0,237.2L158.0,237.7L159.0,238.8L160.0,238.2L161.0,239.1L162.0,239.2L163.0,239.4L164.0,241.0L165.0,243.8L166.0,245.4L167.0,245.4L168.0,246.6L169.0,247.2L170.0,248.2L171.0,248.6L172.0,247.9L173.0,249.1L174.0,249.3L175.0,248.9L176.0,249.6L177.0,250.0L178.0,250.8L179.0,251.6L180.0,252.9L181.0,252.0L182.0,252.1L183.0,253.5L184.0,251.9L185.0,250.0L186.0,251.0L187.0,250.3L188.0,251.1L189.0,251.7L190.0,252.5L191.0,252.7L192.0,253.1L193.0,254.1L194.0,255.6L195.0,256.1L196.0,256.1L197.0,256.1L198.0,256.1L199.0,257.6L200.0,257.3L201.0,258.0L202.0,257.1L203.0,257.7L204.0,259.0L205.0,259.3L206.0,259.7L207.0,259.6L208.0,259.6L209.0,260.1L210.0,261.2L211.0,261.0L212.0,262.1L213.0,262.3L214.0,263.8L215.0,263.2L216.0,264.8L217.0,265.7L218.0,264.7L219.0,266.1L220.0,266.2L221.0,266.6L222.0,266.1L223.0,265.6L224.0,265.8L225.0,266.7L226.0,266.5L227.0,265.2L228.0,265.0L229.0,264.9L230.0,264.6L231.0,265.2L232.0,264.6L233.0,265.6L234.0,265.2L235.0,264.4L236.0,265.1L237.0,264.7L238.0,265.0L239.0,264.6L240.0,264.5L241.0,264.5L242.0,264.5L243.0,264.7L244.0,264.1L245.0,262.9L246.0,263.7L247.0,263.6L248.0,262.9L249.0,262.5L250.0,260.7L251.0,260.9L252.0,259.8L253.0,260.4L254.0,258.9L255.0,259.1L256.0,257.8L257.0,257.9L258.0,257.0L259.0,256.3L260.0,256.6L261.0,256.2L262.0,256.9L263.0,255.7L264.0,255.3L265.0,254.7L266.0,254.7L267.0,252.7L268.0,252.8L269.0,252.0L270.0,251.7L271.0,251.4L272.0,249.7L273.0,249.7L274.0,248.7L275.0,248.1L276.0,246.7L277.0,247.3L278.0,247.0L279.0,245.4L280.0,244.7L281.1,244.8L282.3,242.4L283.4,241.3L284.6,241.9L285.8,243.6L287.0,244.0L288.0,243.4L289.0,243.5L290.0,242.4L291.0,243.2L292.0,242.9L293.0,243.0L294.0,242.8L295.0,242.8L296.0,242.3L297.0,241.7L298.0,242.1L299.0,241.5L300.0,241.9L301.0,241.9L302.0,241.6L303.0,240.9L304.0,241.1L305.0,241.8L306.0,242.5L307.0,243.2L308.0,244.7L309.0,244.3L310.0,246.0L311.0,247.0L312.0,248.3L313.0,249.6L314.0,250.4L315.0,251.2L316.0,251.4L317.0,251.3L318.0,251.6L319.0,251.3L320.0,251.0L321.0,250.1L322.0,250.9L323.0,249.8L324.0,250.1L325.0,250.3L326.0,250.4L327.0,250.4L328.0,249.3L329.0,250.3L330.0,250.7L331.0,251.3L332.0,251.4L333.0,252.8L334.0,252.7L335.0,253.7L336.0,255.4L337.0,255.7L338.0,255.9L339.0,255.9L340.0,257.7L341.0,257.8L342.0,257.5L343.0,258.2L344.0,259.2L345.0,258.9L346.0,257.9L347.0,258.7L348.0,257.3L349.0,257.6L350.0,258.9L351.0,258.1L352.0,259.3L353.0,258.5L354.0,259.2L355.0,258.6L356.0,258.8L357.0,260.5L358.0,260.4L359.0,261.1L360.0,262.2L361.0,261.6L362.0,261.3L363.0,261.6L364.0,261.4L365.0,261.2L366.0,262.3L367.0,260.2L368.0,260.8L369.0,260.3L370.0,259.3L371.0,257.9L372.0,258.3L373.0,257.2L374.0,257.8L375.0,258.1L376.0,257.6L377.0,257.4L378.0,258.5L379.0,258.9L380.0,260.4L381.0,261.8L382.0,263.6L383.0,263.5L384.0,263.7L385.0,265.5L386.0,266.2L387.0,266.4L388.0,266.3L389.1,267.0L390.3,267.8L391.5,268.6L392.6,269.0L392.6,319.0L391.6,319.6L390.5,319.6L389.5,319.1L388.4,319.2L387.4,319.0L386.3,318.1L385.2,319.2L384.2,319.2L383.1,318.3L382.1,318.5L381.1,318.8L380.0,318.9L379.0,318.5L378.0,318.0L377.0,318.1L376.0,318.3L375.0,318.6L374.0,318.1L373.0,318.4L372.0,317.6L371.0,318.3L370.0,317.7L369.0,318.6L368.0,317.6L367.0,317.4L366.0,317.7L365.0,318.1L364.0,318.9L363.0,317.8L362.0,318.0L361.0,318.0L360.0,318.4L359.0,317.9L358.0,318.1L357.0,318.4L356.0,318.2L355.0,318.4L354.0,318.5L353.0,318.0L352.0,318.7L351.0,317.8L350.0,317.6L349.0,317.9L348.0,318.3L347.0,317.4L346.0,317.7L345.0,317.4L344.0,318.4L343.0,318.5L342.0,317.7L341.0,317.3L340.0,317.7L339.0,317.2L338.0,318.3L337.0,317.5L336.0,317.8L335.0,317.8L334.0,317.1L333.0,316.8L332.0,317.2L331.0,317.5L330.0,317.4L329.0,317.8L328.0,316.4L327.0,317.9L326.0,316.7L325.0,317.4L324.0,317.8L323.0,318.0L322.0,317.5L321.0,316.8L320.0,318.1L319.0,317.3L318.0,318.1L317.0,317.1L316.0,317.0L315.0,316.5L314.0,317.5L313.0,317.2L312.0,317.6L311.0,317.2L310.0,316.5L309.0,316.2L308.0,316.9L307.0,316.2L306.0,315.8L305.0,316.4L304.0,316.5L303.0,315.5L302.0,316.3L301.0,315.6L300.0,315.0L299.0,315.8L298.0,315.3L297.0,315.6L296.0,316.8L295.0,316.6L294.0,315.8L293.0,315.8L292.0,315.6L291.0,315.8L290.0,315.9L289.0,315.9L288.0,316.6L287.0,315.5L286.0,316.0L285.0,315.3L284.0,316.2L283.0,316.2L282.0,315.7L281.0,316.1L280.0,316.4L279.0,315.5L278.0,316.7L277.0,315.9L276.0,316.4L275.0,316.3L274.0,316.8L273.0,317.1L272.0,316.6L271.0,316.8L270.0,317.4L269.0,317.6L268.0,317.3L267.0,318.4L266.0,317.8L265.0,317.9L264.0,318.4L263.0,318.8L262.0,317.8L261.0,319.0L260.0,319.6L259.0,318.6L258.0,319.3L257.0,319.9L256.0,319.1L255.0,319.4L254.0,319.7L253.0,320.2L252.0,320.8L251.0,320.5L250.0,321.3L249.0,320.7L248.0,321.7L247.0,321.6L246.0,321.3L245.0,321.5L244.0,321.8L243.0,322.6L242.0,322.1L241.0,323.2L240.0,322.2L239.0,323.2L238.0,322.8L237.0,322.6L236.0,324.1L235.0,324.2L234.0,323.3L233.0,324.6L232.0,324.5L231.0,324.6L230.0,323.9L229.0,324.2L228.0,325.0L227.0,325.3L226.0,325.2L225.0,325.2L224.0,325.1L223.0,324.7L222.0,324.8L221.0,324.8L220.0,325.2L219.0,324.4L218.0,323.9L217.0,324.5L216.0,325.0L215.0,324.8L214.0,323.8L213.0,323.6L212.0,324.8L211.0,324.0L210.0,323.8L209.0,323.8L208.0,322.6L207.0,323.1L206.0,322.9L205.0,323.8L204.0,323.2L203.0,323.0L202.0,322.9L201.0,322.3L200.0,322.5L199.0,321.1L198.0,321.5L197.0,321.5L196.0,320.8L195.0,321.0L194.0,320.5L193.0,320.3L192.0,319.7L191.0,320.1L190.0,320.0L189.0,319.7L188.0,319.2L187.0,318.8L186.0,318.4L185.0,318.1L184.0,318.6L183.0,319.1L182.0,318.4L181.0,319.0L180.0,317.6L179.0,317.6L178.0,318.3L177.0,317.1L176.0,317.9L175.0,317.6L174.0,316.8L173.0,316.9L172.0,317.2L171.0,317.8L170.0,317.3L169.0,316.6L168.0,316.8L167.0,316.2L166.0,316.5L165.0,317.2L164.0,316.8L163.0,316.7L162.0,316.2L161.0,316.8L160.0,315.4L159.0,316.4L158.0,315.7L157.0,316.1L156.0,314.7L155.0,315.4L154.0,315.4L153.0,315.0L152.0,314.8L151.0,314.2L150.0,313.5L149.0,314.6L148.0,314.7L147.0,314.5L146.0,313.4L145.0,314.2L144.0,313.9L143.0,313.1L142.0,313.4L141.0,313.0L140.0,311.9L139.0,312.4L138.0,312.5L137.0,312.0L136.0,311.8L135.0,310.4L134.0,310.7L133.0,310.7L132.0,310.1L131.0,311.1L130.0,311.1L129.0,311.1L128.0,310.8L127.0,311.3L126.0,312.5L125.0,311.3L124.0,312.0L123.0,312.4L122.0,312.3L121.0,311.9L120.0,312.1L119.0,312.7L118.0,311.4L117.0,311.6L116.0,312.4L115.0,312.6L114.0,312.4L113.0,311.8L112.0,311.9L111.0,312.3L110.0,312.3L109.0,313.2L108.0,313.0L107.0,312.4L106.0,312.4L105.0,313.8L104.0,313.4L103.0,313.0L102.0,313.1L101.0,313.1L100.0,313.2L99.0,314.0L98.0,313.6L97.0,313.7L96.0,313.6L95.0,313.9L94.0,312.6L93.0,312.7L92.0,313.6L91.0,313.5L90.0,313.6L89.0,312.1L88.0,312.7L87.0,311.6L86.0,312.8L85.0,312.7L84.0,312.3L83.0,311.6Z" fill="#e6e6e6" stroke="none"/><g fill="none" stroke-linejoin="round"><path d="M83.0,335.5L83.8,335.8L84.6,335.5L85.4,335.5L86.2,335.6L87.0,335.3L87.8,335.5L88.6,335.6L89.4,335.7L90.2,335.3L91.0,335.4L91.8,335.3L92.6,335.7L93.4,335.6L94.2,335.2L95.0,335.8L95.8,335.8L96.6,335.6L97.4,335.6L98.2,335.3L99.0,335.2L99.8,335.5L100.6,335.2L101.4,335.3L102.2,335.3L103.0,335.2L103.8,335.5L104.6,335.5L105.4,335.7L106.2,335.5L107.0,335.6L107.8,335.5L108.6,335.6L109.4,335.5L110.2,335.4L111.0,335.8L111.8,335.8L112.6,335.7L113.4,335.6L114.2,335.4L115.0,335.3L115.8,335.4L116.6,335.2L117.4,335.7L118.2,335.4L119.0,335.7L119.8,335.4L120.6,335.8L121.4,335.7L122.2,335.2L123.0,335.3L123.8,335.7L124.6,335.5L125.4,335.8L126.2,335.4L127.0,335.2L127.8,335.6L128.6,335.7L129.4,335.4L130.2,335.3L131.0,335.4L131.8,335.8L132.6,335.7L133.4,335.3L134.2,335.3L135.0,335.3L135.8,335.1L136.6,335.5L137.4,335.0L138.2,335.2L139.0,335.0L139.8,334.7L140.6,335.0L141.4,334.5L142.2,334.7L143.0,334.3L143.8,334.4L144.6,334.2L145.4,334.2L146.2,334.7L147.0,334.7L147.8,334.5L148.6,335.0L149.4,334.7L150.2,334.9L151.0,335.2L151.8,335.2L152.6,335.0L153.4,335.6L154.2,335.2L155.0,335.4L155.8,335.7L156.6,335.4L157.4,335.4L158.2,335.2L159.0,335.3L159.8,335.5L160.6,335.3L161.4,335.6L162.2,335.4L163.0,335.5L163.8,335.8L164.6,335.5L165.4,335.5L166.2,335.7L167.0,335.3L167.8,335.3L168.6,335.7L169.4,335.7L170.2,335.3L171.0,335.3L171.8,335.6L172.6,335.8L173.4,335.3L174.2,335.8L175.0,335.7L175.8,335.6L176.6,335.5L177.4,335.3L178.2,335.2L179.0,335.8L179.8,335.3L180.6,335.6L181.4,335.4L182.2,335.7L183.0,335.6L183.8,335.4L184.6,335.3L185.4,335.6L186.2,335.2L187.0,335.3L187.8,335.5L188.6,335.7L189.4,335.6L190.2,335.4L191.0,335.8L191.8,335.3L192.6,335.2L193.4,335.4L194.2,335.5L195.0,335.2L195.8,335.3L196.6,335.4L197.4,335.5L198.2,335.3L199.0,335.4L199.8,335.7L200.6,335.8L201.4,335.6L202.2,335.6L203.0,335.6L203.8,335.3L204.6,335.2L205.4,335.2L206.2,335.7L207.0,335.6L207.8,335.8L208.6,335.2L209.4,335.6L210.2,335.5L211.0,335.6L211.8,335.4L212.6,335.8L213.4,335.2L214.2,335.5L215.0,335.6L215.8,335.7L216.6,335.6L217.4,335.6L218.2,335.7L219.0,335.7L219.8,335.4L220.6,335.6L221.4,335.7L222.2,335.7L223.0,335.5L223.8,335.7L224.6,335.7L225.4,335.5L226.2,335.6L227.0,335.4L227.8,335.5L228.6,335.6L229.4,335.2L230.2,335.6L231.0,335.8L231.8,335.7L232.6,335.6L233.4,335.4L234.2,335.6L235.0,335.5L235.8,335.5L236.6,335.7L237.4,335.3L238.2,335.7L239.0,335.2L239.8,335.6L240.6,335.5L241.4,335.3L242.2,335.6L243.0,335.5L243.8,335.6L244.6,335.8L245.4,335.4L246.2,335.2L247.0,335.4L247.8,335.6L248.6,335.3L249.4,335.3L250.2,335.7L251.0,335.6L251.8,335.5L252.6,335.7L253.4,335.4L254.2,335.6L255.0,335.3L255.8,335.5L256.6,335.7L257.4,335.7L258.2,335.7L259.0,335.4L259.8,335.5L260.6,335.4L261.4,335.3L262.2,335.5L263.0,335.7L263.8,335.7L264.6,335.6L265.4,335.8L266.2,335.4L267.0,335.3L267.8,335.5L268.6,335.4L269.4,335.3L270.2,335.4L271.0,335.6L271.8,335.5L272.6,335.4L273.4,335.7L274.2,335.8L275.0,335.5L275.8,335.2L276.6,335.2L277.4,335.7L278.2,335.2L279.0,335.6L279.8,335.5L280.6,335.4L281.4,335.7L282.2,335.2L283.0,335.3L283.8,335.5L284.6,335.2L285.4,335.7L286.2,335.3L287.0,335.3L287.8,335.2L288.6,335.6L289.4,335.5L290.2,335.6L291.0,335.6L291.8,335.7L292.6,335.8L293.4,335.6L294.2,335.3L295.0,335.5L295.8,335.3L296.6,335.2L297.4,335.5L298.2,335.6L299.0,335.3L299.8,335.4L300.6,335.4L301.4,335.6L302.2,335.5L303.0,335.6L303.8,335.7L304.6,335.4L305.4,335.7L306.2,335.7L307.0,335.3L307.8,335.8L308.6,335.6L309.4,335.3L310.2,335.5L311.0,335.6L311.8,335.7L312.6,335.4L313.4,335.5L314.2,335.7L315.0,335.7L315.8,335.8L316.6,335.5L317.4,335.6L318.2,335.3L319.0,335.6L319.8,335.7L320.6,335.6L321.4,335.6L322.2,335.3L323.0,335.7L323.8,335.8L324.6,335.8L325.4,335.5L326.2,335.7L327.0,335.4L327.8,335.7L328.6,335.7L329.4,335.4L330.2,335.2L331.0,335.5L331.8,335.5L332.6,335.7L333.4,335.5L334.2,335.2L335.0,335.7L335.8,335.2L336.6,335.7L337.4,335.3L338.2,335.4L339.0,335.7L339.8,335.3L340.6,335.3L341.4,335.5L342.2,335.6L343.0,335.7L343.8,335.6L344.6,335.8L345.4,335.5L346.2,335.8L347.0,335.3L347.8,335.3L348.6,335.5L349.4,335.4L350.2,335.6L351.0,335.6L351.8,335.5L352.6,335.7L353.4,335.5L354.2,335.4L355.0,335.4L355.8,335.7L356.6,335.7L357.4,335.3L358.2,335.7L359.0,335.8L359.8,335.5L360.6,335.5L361.4,335.3L362.2,335.5L363.0,335.5L363.8,335.6L364.6,335.2L365.4,335.8L366.2,335.5L367.0,335.4L367.8,335.7L368.6,335.5L369.4,335.5L370.2,335.6L371.0,335.2L371.8,335.5L372.6,335.4L373.4,335.8L374.2,335.8L375.0,335.4L375.8,335.5L376.6,335.3L377.4,335.5L378.2,335.7L379.0,335.7L379.8,335.5L380.6,335.4L381.4,335.3L382.2,335.6L383.0,335.8L383.8,335.3L384.6,335.7L385.4,335.2L386.2,335.3L387.0,335.3L387.8,335.6L388.6,335.4L389.4,335.4L390.2,335.6L391.0,335.3L391.8,335.6L392.6,335.3" stroke="#9a3aa8" stroke-width="1.2"/><path d="M83.0,332.7L83.8,332.7L84.6,332.3L85.4,332.2L86.2,332.5L87.0,332.4L87.8,332.8L88.6,332.8L89.4,332.7L90.2,332.6L91.0,332.7L91.8,332.3L92.6,332.6L93.4,332.3L94.2,332.9L95.0,332.2L95.8,332.9L96.6,332.3L97.4,332.7L98.2,332.5L99.0,332.5L99.8,332.9L100.6,332.2L101.4,332.2L102.2,332.9L103.0,332.6L103.8,332.3L104.6,333.0L105.4,333.0L106.2,332.3L107.0,332.5L107.8,332.3L108.6,332.5L109.4,332.7L110.2,332.3L111.0,332.8L111.8,332.2L112.6,332.3L113.4,332.9L114.2,332.5L115.0,332.5L115.8,332.7L116.6,332.6L117.4,332.5L118.2,332.2L119.0,332.8L119.8,333.0L120.6,333.0L121.4,332.7L122.2,332.5L123.0,332.5L123.8,332.8L124.6,332.7L125.4,332.3L126.2,332.4L127.0,332.5L127.8,332.6L128.6,332.8L129.4,332.6L130.2,332.2L131.0,332.9L131.8,332.5L132.6,332.6L133.4,332.4L134.2,332.5L135.0,332.5L135.8,332.8L136.6,332.3L137.4,332.6L138.2,332.3L139.0,332.8L139.8,332.2L140.6,332.4L141.4,332.5L142.2,332.7L143.0,332.2L143.8,332.6L144.6,332.4L145.4,332.4L146.2,332.6L147.0,333.0L147.8,332.6L148.6,333.0L149.4,332.3L150.2,332.9L151.0,332.5L151.8,332.4L152.6,332.8L153.4,332.9L154.2,332.2L155.0,332.4L155.8,332.8L156.6,332.5L157.4,332.4L158.2,332.2L159.0,332.2L159.8,332.7L160.6,333.0L161.4,333.0L162.2,332.6L163.0,332.2L163.8,332.5L164.6,332.8L165.4,332.9L166.2,332.7L167.0,332.4L167.8,332.6L168.6,332.6L169.4,332.7L170.2,332.4L171.0,333.0L171.8,332.9L172.6,332.3L173.4,332.4L174.2,332.9L175.0,332.4L175.8,333.0L176.6,332.6L177.4,332.8L178.2,332.8L179.0,332.4L179.8,332.4L180.6,332.4L181.4,332.7L182.2,332.8L183.0,332.3L183.8,332.9L184.6,332.5L185.4,332.4L186.2,332.5L187.0,333.0L187.8,332.6L188.6,332.7L189.4,332.9L190.2,333.0L191.0,332.8L191.8,332.5L192.6,332.7L193.4,332.9L194.2,332.8L195.0,332.7L195.8,332.5L196.6,332.5L197.4,332.8L198.2,332.7L199.0,332.2L199.8,332.8L200.6,332.9L201.4,332.8L202.2,332.9L203.0,332.9L203.8,332.6L204.6,332.8L205.4,332.5L206.2,332.3L207.0,332.5L207.8,332.4L208.6,332.9L209.4,332.8L210.2,332.6L211.0,332.7L211.8,332.3L212.6,332.6L213.4,332.8L214.2,332.5L215.0,332.4L215.8,332.5L216.6,332.5L217.4,332.7L218.2,332.3L219.0,332.3L219.8,332.4L220.6,332.8L221.4,332.8L222.2,332.7L223.0,332.9L223.8,332.5L224.6,332.2L225.4,332.6L226.2,332.6L227.0,332.3L227.8,332.7L228.6,332.5L229.4,332.4L230.2,332.5L231.0,333.0L231.8,332.2L232.6,332.5L233.4,332.4L234.2,332.4L235.0,332.5L235.8,332.4L236.6,332.9L237.4,332.6L238.2,332.8L239.0,332.3L239.8,332.6L240.6,332.7L241.4,332.9L242.2,332.4L243.0,332.6L243.8,332.9L244.6,332.9L245.4,332.4L246.2,332.6L247.0,332.8L247.8,332.5L248.6,332.7L249.4,332.7L250.2,333.0L251.0,332.6L251.8,332.7L252.6,332.5L253.4,332.8L254.2,332.5L255.0,332.6L255.8,332.5L256.6,332.4L257.4,332.3L258.2,332.4L259.0,332.6L259.8,332.4L260.6,332.2L261.4,332.8L262.2,332.4L263.0,332.9L263.8,332.7L264.6,332.5L265.4,332.9L266.2,332.9L267.0,332.5L267.8,332.3L268.6,332.7L269.4,332.9L270.2,332.7L271.0,332.7L271.8,332.3L272.6,332.3L273.4,331.9L274.2,331.9L275.0,331.8L275.8,331.6L276.6,331.5L277.4,331.7L278.2,331.2L279.0,331.3L279.8,331.5L280.6,332.2L281.4,331.9L282.2,331.7L283.0,332.4L283.8,332.6L284.6,332.6L285.4,332.4L286.2,332.8L287.0,332.4L287.8,332.3L288.6,332.9L289.4,332.9L290.2,332.4L291.0,332.9L291.8,332.2L292.6,332.4L293.4,332.2L294.2,332.3L295.0,332.3L295.8,332.8L296.6,332.4L297.4,332.3L298.2,332.1L299.0,332.0L299.8,332.3L300.6,331.9L301.4,331.3L302.2,331.6L303.0,331.3L303.8,331.0L304.6,330.9L305.4,331.0L306.2,331.3L307.0,331.3L307.8,331.5L308.6,331.6L309.4,331.9L310.2,331.9L311.0,332.1L311.8,332.3L312.6,332.7L313.4,332.4L314.2,332.9L315.0,332.6L315.8,332.9L316.6,332.8L317.4,333.0L318.2,332.7L319.0,332.5L319.8,332.5L320.6,332.7L321.4,332.8L322.2,332.9L323.0,332.3L323.8,332.2L324.6,332.3L325.4,332.3L326.2,332.2L327.0,332.2L327.8,332.4L328.6,332.3L329.4,332.7L330.2,332.7L331.0,333.0L331.8,333.0L332.6,332.8L333.4,333.0L334.2,332.2L335.0,332.4L335.8,332.9L336.6,332.6L337.4,332.4L338.2,332.8L339.0,332.5L339.8,332.6L340.6,332.5L341.4,332.4L342.2,332.3L343.0,332.7L343.8,333.0L344.6,333.0L345.4,332.8L346.2,332.9L347.0,332.5L347.8,332.4L348.6,332.9L349.4,332.7L350.2,332.7L351.0,332.2L351.8,332.4L352.6,332.6L353.4,332.8L354.2,332.9L355.0,332.8L355.8,332.5L356.6,332.5L357.4,332.9L358.2,333.0L359.0,332.6L359.8,332.4L360.6,332.7L361.4,332.6L362.2,332.5L363.0,332.4L363.8,332.5L364.6,332.7L365.4,332.3L366.2,332.6L367.0,333.0L367.8,332.8L368.6,332.4L369.4,332.5L370.2,332.3L371.0,332.8L371.8,332.7L372.6,332.3L373.4,332.6L374.2,332.7L375.0,332.7L375.8,332.5L376.6,332.4L377.4,332.5L378.2,333.0L379.0,332.5L379.8,332.6L380.6,332.6L381.4,332.3L382.2,332.5L383.0,332.4L383.8,332.5L384.6,332.5L385.4,332.5L386.2,333.0L387.0,332.4L387.8,332.5L388.6,332.7L389.4,332.5L390.2,332.6L391.0,332.7L391.8,332.3L392.6,332.7" stroke="#ffa020" stroke-width="1.2"/><path d="M83.0,336.0L83.8,336.0L84.6,336.1L85.4,335.7L86.2,335.7L87.0,335.7L87.8,335.7L88.6,336.0L89.4,335.7L90.2,335.9L91.0,335.7L91.8,335.8L92.6,335.9L93.4,336.1L94.2,336.0L95.0,335.6L95.8,335.8L96.6,335.7L97.4,336.1L98.2,336.1L99.0,336.1L99.8,336.1L100.6,336.0L101.4,336.2L102.2,336.1L103.0,335.8L103.8,336.1L104.6,335.9L105.4,336.1L106.2,335.9L107.0,335.9L107.8,335.8L108.6,335.9L109.4,335.8L110.2,335.7L111.0,336.1L111.8,336.1L112.6,336.2L113.4,336.0L114.2,335.9L115.0,336.0L115.8,335.7L116.6,336.0L117.4,335.9L118.2,335.7L119.0,335.7L119.8,335.9L120.6,335.8L121.4,335.9L122.2,336.0L123.0,335.8L123.8,335.7L124.6,335.9L125.4,335.7L126.2,335.7L127.0,335.7L127.8,335.8L128.6,335.6L129.4,336.0L130.2,336.2L131.0,335.8L131.8,336.0L132.6,336.2L133.4,335.6L134.2,335.7L135.0,336.1L135.8,336.1L136.6,336.0L137.4,335.7L138.2,335.8L139.0,336.1L139.8,336.1L140.6,336.1L141.4,335.7L142.2,336.1L143.0,335.8L143.8,336.0L144.6,335.7L145.4,336.2L146.2,336.0L147.0,336.0L147.8,335.7L148.6,336.0L149.4,335.9L150.2,336.0L151.0,335.8L151.8,336.0L152.6,335.8L153.4,335.8L154.2,335.7L155.0,336.0L155.8,335.7L156.6,335.7L157.4,335.6L158.2,336.0L159.0,335.9L159.8,335.9L160.6,335.6L161.4,335.9L162.2,335.8L163.0,335.7L163.8,335.6L164.6,336.2L165.4,335.7L166.2,335.8L167.0,335.8L167.8,336.0L168.6,335.6L169.4,335.9L170.2,335.8L171.0,336.1L171.8,335.6L172.6,335.8L173.4,335.9L174.2,336.2L175.0,335.9L175.8,335.9L176.6,336.0L177.4,335.8L178.2,335.6L179.0,335.9L179.8,336.1L180.6,336.0L181.4,335.8L182.2,336.0L183.0,336.1L183.8,335.8L184.6,336.0L185.4,335.8L186.2,335.7L187.0,335.8L187.8,335.7L188.6,335.8L189.4,335.6L190.2,335.8L191.0,335.7L191.8,336.1L192.6,336.0L193.4,335.6L194.2,336.1L195.0,335.7L195.8,335.9L196.6,335.9L197.4,335.8L198.2,335.8L199.0,335.9L199.8,335.7L200.6,336.1L201.4,335.7L202.2,336.1L203.0,335.7L203.8,335.8L204.6,335.8L205.4,335.6L206.2,335.7L207.0,335.8L207.8,335.9L208.6,336.1L209.4,336.2L210.2,335.6L211.0,335.9L211.8,335.7L212.6,336.1L213.4,335.8L214.2,336.1L215.0,335.9L215.8,335.7L216.6,335.6L217.4,335.7L218.2,336.1L219.0,335.7L219.8,335.9L220.6,335.8L221.4,335.8L222.2,336.1L223.0,335.7L223.8,336.0L224.6,336.0L225.4,336.2L226.2,335.9L227.0,336.2L227.8,335.9L228.6,335.9L229.4,336.0L230.2,336.1L231.0,336.1L231.8,335.7L232.6,335.7L233.4,335.9L234.2,336.1L235.0,335.9L235.8,335.8L236.6,336.2L237.4,335.8L238.2,335.7L239.0,335.6L239.8,335.6L240.6,336.0L241.4,335.7L242.2,336.0L243.0,336.1L243.8,336.2L244.6,336.1L245.4,335.9L246.2,336.0L247.0,336.1L247.8,336.0L248.6,335.8L249.4,336.1L250.2,335.7L251.0,335.8L251.8,336.2L252.6,335.9L253.4,335.8L254.2,336.1L255.0,335.9L255.8,335.6L256.6,335.6L257.4,335.8L258.2,335.8L259.0,336.2L259.8,335.7L260.6,336.1L261.4,336.1L262.2,335.8L263.0,336.2L263.8,336.1L264.6,335.9L265.4,335.8L266.2,335.9L267.0,336.1L267.8,335.9L268.6,335.7L269.4,335.8L270.2,335.9L271.0,335.7L271.8,335.9L272.6,335.6L273.4,336.1L274.2,335.7L275.0,335.7L275.8,336.0L276.6,335.8L277.4,336.1L278.2,335.9L279.0,335.9L279.8,336.1L280.6,335.7L281.4,336.0L282.2,336.0L283.0,335.9L283.8,336.2L284.6,335.6L285.4,336.1L286.2,335.7L287.0,336.1L287.8,335.7L288.6,335.6L289.4,335.9L290.2,336.2L291.0,335.8L291.8,335.9L292.6,336.0L293.4,335.7L294.2,335.9L295.0,335.6L295.8,335.9L296.6,336.1L297.4,335.8L298.2,335.7L299.0,335.6L299.8,336.0L300.6,335.9L301.4,336.1L302.2,336.0L303.0,335.7L303.8,336.1L304.6,336.2L305.4,336.1L306.2,336.1L307.0,336.0L307.8,336.0L308.6,336.0L309.4,336.0L310.2,335.8L311.0,335.7L311.8,336.0L312.6,336.0L313.4,335.6L314.2,336.0L315.0,336.0L315.8,335.9L316.6,336.1L317.4,336.1L318.2,335.8L319.0,336.1L319.8,335.9L320.6,335.9L321.4,335.8L322.2,336.2L323.0,335.9L323.8,336.2L324.6,335.8L325.4,336.0L326.2,336.1L327.0,336.0L327.8,335.8L328.6,335.6L329.4,335.9L330.2,335.8L331.0,336.1L331.8,336.1L332.6,336.2L333.4,335.9L334.2,335.8L335.0,335.9L335.8,336.0L336.6,335.6L337.4,335.7L338.2,335.7L339.0,335.8L339.8,335.8L340.6,336.2L341.4,335.7L342.2,336.2L343.0,335.8L343.8,335.7L344.6,336.2L345.4,335.7L346.2,335.7L347.0,335.7L347.8,335.6L348.6,335.8L349.4,335.7L350.2,335.7L351.0,335.6L351.8,336.0L352.6,335.6L353.4,335.7L354.2,335.9L355.0,336.1L355.8,336.0L356.6,336.0L357.4,336.0L358.2,336.1L359.0,336.1L359.8,335.7L360.6,335.6L361.4,336.0L362.2,335.9L363.0,335.9L363.8,336.1L364.6,335.7L365.4,336.0L366.2,335.9L367.0,335.9L367.8,335.7L368.6,335.8L369.4,335.9L370.2,335.9L371.0,336.1L371.8,335.8L372.6,336.0L373.4,335.7L374.2,336.0L375.0,335.7L375.8,336.1L376.6,336.2L377.4,335.8L378.2,336.1L379.0,335.7L379.8,335.8L380.6,335.7L381.4,335.9L382.2,335.7L383.0,336.0L383.8,335.9L384.6,335.9L385.4,336.0L386.2,335.7L387.0,335.8L387.8,335.8L388.6,335.6L389.4,336.1L390.2,335.7L391.0,335.7L391.8,336.1L392.6,336.1" stroke="#2a8a3a" stroke-width="1.4"/><path d="M83.0,329.6L84.0,329.1L85.0,329.7L86.0,329.6L87.0,329.9L88.0,329.0L89.0,329.0L90.0,329.5L91.0,329.3L92.0,328.8L93.0,329.1L94.0,328.7L95.0,329.0L96.0,328.1L97.0,328.2L98.0,328.9L99.0,328.5L100.0,328.6L101.0,329.6L102.0,329.6L103.0,329.3L104.0,330.1L105.0,330.2L106.0,329.6L107.0,330.2L108.0,329.5L109.0,329.8L110.0,329.5L111.0,329.6L112.0,330.6L113.0,329.9L114.0,330.6L115.0,329.9L116.0,330.0L117.0,330.3L118.0,330.1L119.0,329.3L120.0,329.9L121.0,329.9L122.0,329.3L123.0,329.2L124.0,330.0L125.0,329.4L126.0,328.8L127.0,328.9L128.0,328.5L129.0,329.0L130.0,328.4L131.0,327.7L132.0,328.4L133.0,326.5L134.0,326.8L135.0,326.6L136.0,327.6L137.0,326.9L138.0,327.5L139.0,327.1L140.0,327.6L141.0,327.9L142.0,327.9L143.0,327.9L144.0,328.0L145.0,327.9L146.0,328.1L147.0,327.5L148.0,328.0L149.0,327.7L150.0,328.4L151.0,328.5L152.0,327.5L153.0,327.6L154.0,328.2L155.0,328.1L156.0,327.4L157.0,328.2L158.0,328.5L159.0,327.9L160.0,327.7L161.0,328.0L162.0,328.4L163.0,327.5L164.0,327.5L165.0,327.3L166.0,327.8L167.0,327.6L168.0,327.3L169.0,327.5L170.0,327.2L171.0,327.6L172.0,328.5L173.0,328.1L174.0,327.8L175.0,328.7L176.0,328.1L177.0,328.0L178.0,327.8L179.0,327.7L180.0,327.6L181.0,327.4L182.0,327.9L183.0,327.0L184.0,326.7L185.0,327.6L186.0,328.5L187.0,328.2L188.0,329.3L189.0,328.6L190.0,328.5L191.0,328.3L192.0,328.4L193.0,327.9L194.0,327.8L195.0,328.4L196.0,328.0L197.0,328.2L198.0,329.0L199.0,328.7L200.0,329.2L201.0,328.8L202.0,329.7L203.0,329.6L204.0,329.4L205.0,330.5L206.0,330.2L207.0,330.3L208.0,330.5L209.0,330.5L210.0,330.5L211.0,330.9L212.0,330.1L213.0,330.0L214.0,330.1L215.0,330.1L216.0,329.7L217.0,330.0L218.0,329.2L219.0,329.2L220.0,329.1L221.0,328.6L222.0,328.5L223.0,328.3L224.0,328.8L225.0,328.0L226.0,328.7L227.0,328.2L228.0,328.8L229.0,328.8L230.0,328.5L231.0,329.3L232.0,329.0L233.0,328.9L234.0,328.4L235.0,328.9L236.0,328.7L237.0,328.8L238.0,329.3L239.0,329.2L240.0,328.2L241.0,328.9L242.0,329.1L243.0,328.6L244.0,328.0L245.0,328.8L246.0,328.2L247.0,328.8L248.0,328.6L249.0,328.5L250.0,328.5L251.0,327.4L252.0,328.2L253.0,327.5L254.0,327.2L255.0,327.5L256.0,327.6L257.0,326.8L258.0,327.2L259.0,327.5L260.0,327.0L261.0,326.9L262.0,326.5L263.0,327.2L264.0,326.2L265.0,326.6L266.0,326.6L267.0,325.8L268.0,327.0L269.0,326.1L270.0,327.0L271.0,326.9L272.0,326.9L273.0,326.8L274.0,326.3L275.0,326.3L276.0,326.2L277.0,326.8L278.0,325.7L279.0,325.8L280.0,326.7L281.0,326.5L282.0,326.4L283.0,326.6L284.0,326.1L285.0,326.4L286.0,326.0L287.0,326.6L288.0,325.7L289.0,326.2L290.0,326.5L291.0,326.6L292.0,326.0L293.0,326.1L294.0,326.3L295.0,325.4L296.0,325.0L297.0,324.6L298.0,325.4L299.0,325.1L300.0,325.2L301.0,325.5L302.0,325.2L303.0,325.5L304.0,325.7L305.0,325.9L306.0,326.8L307.0,326.2L308.0,326.2L309.0,327.3L310.0,327.1L311.0,326.5L312.0,327.3L313.0,327.4L314.0,327.4L315.0,327.6L316.0,327.3L317.0,327.1L318.0,327.8L319.0,327.7L320.0,327.8L321.0,327.4L322.0,327.7L323.0,328.2L324.0,328.0L325.0,328.4L326.0,328.4L327.0,328.9L328.0,328.5L329.0,328.9L330.0,329.4L331.0,328.7L332.0,328.5L333.0,329.0L334.0,328.3L335.0,329.1L336.0,328.4L337.0,329.1L338.0,328.6L339.0,328.0L340.0,328.4L341.0,328.7L342.0,328.5L343.0,328.7L344.0,328.5L345.0,329.3L346.0,328.4L347.0,329.2L348.0,328.3L349.0,328.9L350.0,328.5L351.0,328.5L352.0,328.9L353.0,329.2L354.0,328.4L355.0,328.4L356.0,328.4L357.0,328.4L358.0,328.0L359.0,327.9L360.0,328.4L361.0,328.0L362.0,327.6L363.0,328.1L364.0,328.2L365.0,327.4L366.0,326.8L367.0,327.1L368.0,327.7L369.0,326.7L370.0,326.6L371.0,327.5L372.0,326.7L373.0,327.7L374.0,327.1L375.0,327.4L376.0,327.7L377.0,327.2L378.0,328.1L379.0,327.8L380.0,328.3L381.0,328.3L382.0,327.4L383.0,328.2L384.0,328.2L385.0,327.4L386.0,327.8L387.0,327.3L388.0,327.6L389.1,327.5L390.2,326.7L391.3,326.4L392.4,326.0" stroke="#c4c430" stroke-width="1.2"/><path d="M83.0,321.0L84.0,321.6L85.0,320.8L86.0,321.7L87.0,321.3L88.0,321.8L89.0,320.6L90.0,321.3L91.0,320.8L92.0,320.8L93.0,320.8L94.0,320.0L95.0,320.0L96.0,320.3L97.0,319.8L98.0,319.8L99.0,319.9L100.0,320.8L101.0,321.0L102.0,321.1L103.0,320.7L104.0,321.1L105.0,320.5L106.0,319.9L107.0,319.8L108.0,319.5L109.0,319.3L110.0,319.8L111.0,319.7L112.0,320.0L113.0,320.4L114.0,319.9L115.0,319.5L116.0,319.8L117.0,319.7L118.0,319.0L119.0,319.2L120.0,318.1L121.0,318.0L122.0,318.4L123.0,319.4L124.0,319.5L125.0,319.8L126.0,319.1L127.0,319.0L128.0,319.0L129.0,317.9L130.0,317.6L131.0,317.4L132.0,317.6L133.0,317.8L134.0,317.4L135.0,317.1L136.0,317.0L137.0,316.8L138.0,317.7L139.0,317.3L140.0,317.3L141.2,316.7L142.4,316.6L143.6,315.4L144.7,316.7L145.9,316.8L147.0,317.5L148.0,317.3L149.0,318.2L150.0,318.1L151.0,317.9L152.0,317.6L153.0,317.9L154.0,317.7L155.0,318.1L156.0,318.2L157.0,317.9L158.0,317.4L159.0,317.4L160.0,318.5L161.0,318.7L162.0,318.2L163.0,318.8L164.0,319.0L165.0,319.6L166.0,318.8L167.0,319.0L168.0,319.9L169.0,320.0L170.0,320.3L171.0,320.9L172.0,321.1L173.0,321.2L174.0,320.8L175.0,320.6L176.0,320.5L177.0,320.8L178.0,321.1L179.0,320.8L180.0,320.6L181.0,320.8L182.0,320.7L183.0,320.5L184.0,320.6L185.0,321.5L186.0,321.9L187.0,322.4L188.0,322.6L189.0,321.8L190.0,322.7L191.0,322.5L192.0,322.7L193.0,323.0L194.0,322.5L195.0,322.5L196.0,323.2L197.0,322.4L198.0,322.9L199.0,322.6L200.0,322.5L201.0,322.9L202.0,323.5L203.0,323.9L204.0,323.9L205.0,324.0L206.0,324.3L207.0,325.2L208.0,325.2L209.0,324.8L210.0,325.7L211.0,325.7L212.0,325.7L213.0,326.5L214.0,325.9L215.0,326.1L216.0,326.6L217.0,327.2L218.0,327.1L219.0,327.1L220.0,327.6L221.0,327.2L222.0,327.7L223.0,327.0L224.0,327.8L225.0,327.3L226.0,327.6L227.0,327.6L228.0,327.3L229.0,327.1L230.0,326.9L231.0,327.0L232.0,326.4L233.0,326.1L234.0,326.2L235.0,326.0L236.0,325.3L237.0,325.5L238.0,325.2L239.0,324.7L240.0,325.0L241.0,324.9L242.0,324.3L243.0,324.7L244.0,324.6L245.0,324.1L246.0,323.7L247.0,323.4L248.0,323.4L249.0,323.7L250.0,324.6L251.0,323.9L252.0,324.9L253.0,324.8L254.0,325.1L255.0,324.6L256.0,325.1L257.0,324.6L258.0,325.0L259.0,325.1L260.0,324.9L261.0,324.7L262.0,325.0L263.0,324.2L264.0,324.1L265.0,324.8L266.0,323.8L267.0,324.0L268.0,323.8L269.0,324.1L270.0,323.4L271.0,323.4L272.0,323.2L273.0,323.0L274.0,322.8L275.0,322.6L276.0,322.6L277.0,322.3L278.0,322.1L279.0,322.4L280.0,322.1L281.0,320.9L282.0,321.2L283.0,319.9L284.0,320.7L285.0,321.8L286.0,321.6L287.0,322.6L288.0,322.6L289.0,322.0L290.0,321.6L291.0,321.0L292.0,321.3L293.0,321.2L294.0,321.4L295.0,320.9L296.0,321.1L297.0,320.4L298.0,320.4L299.0,320.3L300.0,320.0L301.0,321.1L302.0,320.9L303.0,321.3L304.0,322.1L305.0,321.9L306.0,322.1L307.0,322.0L308.0,322.3L309.0,323.0L310.0,323.0L311.0,323.6L312.0,324.0L313.0,324.4L314.0,324.4L315.0,325.4L316.0,324.9L317.0,324.5L318.0,325.1L319.0,325.1L320.0,324.2L321.0,324.9L322.0,324.6L323.0,324.1L324.0,324.3L325.0,324.5L326.0,323.7L327.0,324.1L328.0,323.5L329.0,323.3L330.0,324.1L331.0,324.2L332.0,324.0L333.0,324.2L334.0,323.9L335.0,324.0L336.0,324.3L337.0,324.6L338.0,324.6L339.0,324.2L340.0,324.3L341.0,323.9L342.0,324.2L343.0,324.1L344.0,323.9L345.0,323.4L346.0,323.5L347.0,324.1L348.0,323.5L349.0,323.8L350.0,323.2L351.0,322.9L352.0,322.7L353.0,322.9L354.0,322.1L355.0,322.8L356.0,322.5L357.0,323.4L358.0,323.7L359.0,323.5L360.0,323.7L361.0,323.7L362.0,323.9L363.0,323.5L364.0,323.5L365.0,324.0L366.0,324.0L367.0,323.2L368.0,323.4L369.0,323.5L370.0,323.6L371.0,323.2L372.0,323.0L373.0,323.4L374.0,323.6L375.0,323.7L376.0,323.8L377.0,324.1L378.0,323.5L379.0,324.3L380.0,323.9L381.0,324.1L382.0,324.2L383.0,324.4L384.0,324.5L385.0,324.8L386.0,324.7L387.0,325.1L388.0,325.6L389.0,326.2L390.0,325.9L391.2,324.7L392.4,324.4" stroke="#0000ff" stroke-width="1.3"/><path d="M83.0,272.4L84.0,272.5L85.0,272.8L86.0,272.9L87.0,273.5L88.0,273.9L89.0,274.6L90.0,274.8L91.0,275.3L92.0,274.9L93.0,275.3L94.0,275.5L95.0,275.5L96.0,276.3L97.0,276.1L98.0,276.8L99.0,277.2L100.0,276.8L101.0,276.7L102.0,276.0L103.0,275.2L104.0,274.0L105.0,274.2L106.0,274.1L107.0,273.6L108.0,273.4L109.0,273.5L110.0,273.6L111.0,274.2L112.0,273.9L113.0,273.8L114.0,273.8L115.0,273.9L116.0,273.1L117.0,272.8L118.0,273.4L119.0,273.3L120.0,273.3L121.0,273.0L122.0,272.8L123.0,272.7L124.0,272.8L125.0,273.2L126.0,273.1L127.0,273.9L128.0,274.2L129.0,272.6L130.0,272.3L131.0,271.0L132.3,269.9L133.6,268.0L134.7,269.1L135.9,269.6L137.0,270.5L138.0,271.3L139.0,271.8L140.0,272.8L141.0,273.8L142.0,273.5L143.0,273.1L144.0,272.8L145.0,272.5L146.0,272.6L147.0,272.9L148.0,273.4L149.0,274.1L150.0,274.3L151.0,274.5L152.0,274.9L153.0,274.7L154.0,274.9L155.0,275.2L156.0,275.5L157.0,275.7L158.0,276.6L159.0,277.1L160.0,276.7L161.0,276.8L162.0,276.7L163.0,276.2L164.0,277.0L165.0,278.8L166.0,279.8L167.0,280.3L168.0,280.8L169.0,281.8L170.0,282.8L171.0,282.1L172.0,282.3L173.0,282.6L174.0,282.4L175.0,282.9L176.0,283.2L177.0,283.6L178.0,283.9L179.0,284.6L180.0,284.7L181.0,285.2L182.0,285.4L183.0,284.3L184.0,283.2L185.0,283.9L186.0,284.7L187.0,285.0L188.0,285.7L189.0,285.5L190.0,286.2L191.0,285.9L192.0,286.8L193.0,287.1L194.0,286.9L195.0,287.3L196.0,287.7L197.0,288.7L198.0,289.3L199.0,289.3L200.0,288.7L201.0,288.9L202.0,288.6L203.0,288.8L204.0,288.8L205.0,288.7L206.0,289.0L207.0,290.1L208.0,289.8L209.0,290.3L210.0,290.7L211.0,291.0L212.0,291.3L213.0,291.5L214.0,291.7L215.0,291.6L216.0,292.8L217.0,293.5L218.0,294.2L219.0,294.4L220.0,294.5L221.0,294.8L222.0,294.7L223.0,294.1L224.0,294.3L225.0,294.1L226.0,294.4L227.0,294.0L228.0,293.8L229.0,293.5L230.0,293.5L231.0,293.5L232.0,293.3L233.0,292.7L234.0,292.9L235.0,293.1L236.0,292.6L237.0,293.4L238.0,292.6L239.0,293.1L240.0,292.7L241.0,293.4L242.0,293.2L243.0,292.8L244.0,292.7L245.0,292.6L246.0,292.3L247.0,291.8L248.0,291.5L249.0,291.2L250.0,290.9L251.0,290.1L252.0,289.8L253.0,289.5L254.0,288.8L255.0,288.1L256.0,288.1L257.0,287.6L258.0,287.6L259.0,287.3L260.0,287.1L261.0,286.0L262.0,285.6L263.0,286.1L264.0,285.6L265.0,285.5L266.0,285.0L267.0,284.8L268.0,283.8L269.0,283.5L270.0,283.5L271.0,283.3L272.0,282.4L273.0,282.8L274.0,281.8L275.0,281.3L276.0,281.1L277.0,280.5L278.0,280.0L279.0,279.6L280.1,279.1L281.2,278.7L282.3,278.7L283.4,278.3L284.6,278.8L285.8,279.0L287.0,279.8L288.0,279.3L289.0,279.9L290.0,279.5L291.0,279.3L292.0,279.3L293.0,278.9L294.0,279.2L295.0,279.2L296.0,279.2L297.0,279.7L298.0,279.2L299.0,279.6L300.0,278.7L301.0,278.7L302.0,278.5L303.0,278.3L304.0,278.6L305.0,278.4L306.0,278.5L307.0,279.9L308.0,279.9L309.0,280.7L310.0,281.1L311.0,282.2L312.0,282.1L313.0,282.7L314.0,283.3L315.0,284.3L316.0,285.3L317.0,284.6L318.0,284.7L319.0,283.6L320.0,284.0L321.0,283.4L322.0,284.1L323.0,283.6L324.0,284.1L325.2,283.4L326.4,283.1L327.6,281.9L328.7,282.8L329.8,282.6L330.9,283.9L332.0,284.0L333.0,284.5L334.0,285.4L335.0,285.3L336.0,286.1L337.0,286.6L338.0,286.8L339.0,287.1L340.0,287.8L341.0,288.1L342.0,288.8L343.0,289.1L344.0,289.2L345.0,289.4L346.0,289.2L347.0,288.5L348.0,287.8L349.0,288.4L350.0,289.5L351.0,289.5L352.0,289.1L353.0,287.9L354.0,287.9L355.0,288.5L356.0,288.4L357.0,288.9L358.0,289.7L359.0,290.2L360.0,290.3L361.0,289.8L362.0,290.1L363.0,290.7L364.0,290.2L365.0,290.6L366.0,290.0L367.0,290.3L368.0,288.9L369.0,288.8L370.0,287.6L371.0,286.9L372.0,286.7L373.0,286.3L374.0,286.3L375.2,287.0L376.4,287.2L377.6,287.4L378.7,287.6L379.9,288.6L381.0,289.2L382.0,289.6L383.0,290.1L384.0,290.3L385.0,290.6L386.0,290.9L387.0,291.4L388.0,292.3L389.0,292.8L390.1,293.7L391.3,293.6L392.4,294.4" stroke="#000" stroke-width="1.3"/></g><line x1="377.6" y1="338.7" x2="377.6" y2="287" stroke="#ff2020" stroke-width="1" stroke-dasharray="3.2,1.9"/><rect x="67.65" y="227.5" width="340.65" height="111.3" fill="none" stroke="#4a4a4a" stroke-width="1.1"/><rect x="424.6" y="221.8" width="118.7" height="123" rx="2" fill="#fff" stroke="#dcdcdc" stroke-width="1"/><line x1="428" y1="231.2" x2="449.2" y2="231.2" stroke="#555555" stroke-width="1.3"/><text x="456.73" y="234.60" font-size="11.2" textLength="62.42" lengthAdjust="spacingAndGlyphs" fill="#303030" font-family="DejaVu Sans, Liberation Sans, sans-serif" stroke="#303030" stroke-width="0.25">Clinical WES</text><line x1="428" y1="248.4" x2="449.2" y2="248.4" stroke="#5050ff" stroke-width="1.3"/><text x="456.30" y="251.77" font-size="11.2" textLength="73.06" lengthAdjust="spacingAndGlyphs" fill="#303030" font-family="DejaVu Sans, Liberation Sans, sans-serif" stroke="#303030" stroke-width="0.25">Research WES</text><line x1="428" y1="265.5" x2="449.2" y2="265.5" stroke="#ffb640" stroke-width="1.3"/><text x="456.73" y="268.94" font-size="11.2" textLength="80.52" lengthAdjust="spacingAndGlyphs" fill="#303030" font-family="DejaVu Sans, Liberation Sans, sans-serif" stroke="#303030" stroke-width="0.25">Custom panel 1</text><line x1="428" y1="282.7" x2="449.2" y2="282.7" stroke="#b060c0" stroke-width="1.3"/><text x="456.73" y="286.11" font-size="11.2" textLength="80.59" lengthAdjust="spacingAndGlyphs" fill="#303030" font-family="DejaVu Sans, Liberation Sans, sans-serif" stroke="#303030" stroke-width="0.25">Custom panel 2</text><line x1="428" y1="299.9" x2="449.2" y2="299.9" stroke="#50a050" stroke-width="1.3"/><text x="456.73" y="303.28" font-size="11.2" textLength="80.38" lengthAdjust="spacingAndGlyphs" fill="#303030" font-family="DejaVu Sans, Liberation Sans, sans-serif" stroke="#303030" stroke-width="0.25">Custom panel 3</text><line x1="428" y1="317.1" x2="449.2" y2="317.1" stroke="#d0d040" stroke-width="1.3"/><text x="456.73" y="320.45" font-size="11.2" textLength="80.13" lengthAdjust="spacingAndGlyphs" fill="#303030" font-family="DejaVu Sans, Liberation Sans, sans-serif" stroke="#303030" stroke-width="0.25">Custom panel 4</text><line x1="428" y1="334.2" x2="449.2" y2="334.2" stroke="#ff4040" stroke-width="1.3" stroke-dasharray="3,1.4"/><text x="456.39" y="337.62" font-size="11.2" textLength="82.50" lengthAdjust="spacingAndGlyphs" fill="#303030" font-family="DejaVu Sans, Liberation Sans, sans-serif" stroke="#303030" stroke-width="0.25">position m.1555</text></svg></body></html>
